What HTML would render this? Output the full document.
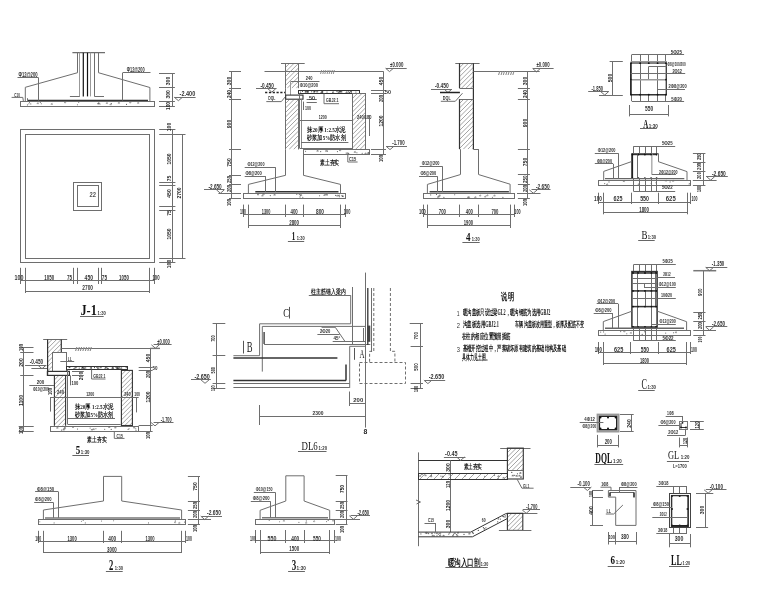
<!DOCTYPE html><html><head><meta charset="utf-8"><style>html,body{margin:0;padding:0;background:#fff;width:760px;height:608px;overflow:hidden}svg{display:block;filter:grayscale(1)}</style></head><body>
<svg width="760" height="608" viewBox="0 0 760 608" font-family="Liberation Sans, sans-serif">
<line x1="72.4" y1="52.7" x2="105.0" y2="52.7" stroke="#6e6e6e" stroke-width="1.2"/>
<line x1="77.5" y1="52.7" x2="77.5" y2="72.7" stroke="#6e6e6e" stroke-width="1.0"/>
<line x1="98.5" y1="52.7" x2="98.5" y2="72.7" stroke="#6e6e6e" stroke-width="1.0"/>
<line x1="79.5" y1="52.7" x2="79.5" y2="96.4" stroke="#999" stroke-width="1.0"/>
<line x1="90.5" y1="52.7" x2="90.5" y2="96.4" stroke="#999" stroke-width="1.0"/>
<line x1="83.3" y1="52.7" x2="83.3" y2="96.4" stroke="#111" stroke-width="1.2"/>
<line x1="87.5" y1="52.7" x2="87.5" y2="96.4" stroke="#111" stroke-width="1.2"/>
<line x1="94.5" y1="52.7" x2="94.5" y2="96.4" stroke="#6e6e6e" stroke-width="1.0"/>
<line x1="69.9" y1="96.5" x2="79.8" y2="96.5" stroke="#6e6e6e" stroke-width="1.0"/>
<line x1="94.4" y1="96.5" x2="104.0" y2="96.5" stroke="#6e6e6e" stroke-width="1.0"/>
<polyline points="77.6,72.7 25.3,87.3 25.3,101.1" fill="none" stroke="#6e6e6e" stroke-width="1.0"/>
<polyline points="98.4,72.7 149.9,87.5 149.9,101.1" fill="none" stroke="#6e6e6e" stroke-width="1.0"/>
<line x1="27.4" y1="100.5" x2="148.0" y2="100.5" stroke="#333" stroke-width="1.5"/>
<line x1="27.5" y1="98.2" x2="27.5" y2="100.5" stroke="#6e6e6e" stroke-width="1.0"/>
<rect x="20.5" y="101.5" width="134.0" height="5.0" fill="none" stroke="#6e6e6e" stroke-width="1.0"/>
<path d="M64.1 102.6l1.4 -0.9l0.3 1.2z" fill="none" stroke="#666" stroke-width="0.5"/>
<circle cx="30.8" cy="103.9" r="0.55" fill="#666"/>
<circle cx="28.9" cy="103.8" r="0.55" fill="#666"/>
<circle cx="78.7" cy="102.3" r="0.55" fill="#666"/>
<circle cx="77.4" cy="104.8" r="0.55" fill="#666"/>
<path d="M50.8 104.2l1.4 -0.9l0.3 1.2z" fill="none" stroke="#666" stroke-width="0.5"/>
<path d="M97.7 103.4l1.4 -0.9l0.3 1.2z" fill="none" stroke="#666" stroke-width="0.5"/>
<circle cx="27.4" cy="104.9" r="0.55" fill="#666"/>
<circle cx="40.3" cy="102.5" r="0.55" fill="#666"/>
<path d="M129.3 102.7l1.4 -0.9l0.3 1.2z" fill="none" stroke="#666" stroke-width="0.5"/>
<path d="M105.9 103.3l1.4 -0.9l0.3 1.2z" fill="none" stroke="#666" stroke-width="0.5"/>
<circle cx="29.5" cy="102.3" r="0.55" fill="#666"/>
<circle cx="111.4" cy="103.5" r="0.55" fill="#666"/>
<circle cx="98.8" cy="103.6" r="0.55" fill="#666"/>
<circle cx="126.5" cy="104.4" r="0.55" fill="#666"/>
<path d="M97.3 103.8l1.4 -0.9l0.3 1.2z" fill="none" stroke="#666" stroke-width="0.5"/>
<path d="M117.9 103.1l1.4 -0.9l0.3 1.2z" fill="none" stroke="#666" stroke-width="0.5"/>
<path d="M36.8 103.5l1.4 -0.9l0.3 1.2z" fill="none" stroke="#666" stroke-width="0.5"/>
<circle cx="41.3" cy="103.7" r="0.55" fill="#666"/>
<path d="M109.7 104.6l1.4 -0.9l0.3 1.2z" fill="none" stroke="#666" stroke-width="0.5"/>
<path d="M137.2 103.1l1.4 -0.9l0.3 1.2z" fill="none" stroke="#666" stroke-width="0.5"/>
<circle cx="100.0" cy="104.0" r="0.55" fill="#666"/>
<text x="18.5" y="76.5" font-size="6.5" textLength="19.0" lengthAdjust="spacingAndGlyphs" fill="#333" font-family="Liberation Sans" font-weight="bold">Φ12@200</text>
<line x1="17.5" y1="77.5" x2="38.4" y2="77.5" stroke="#6e6e6e" stroke-width="1.0"/>
<line x1="38.5" y1="77.6" x2="38.5" y2="100.5" stroke="#6e6e6e" stroke-width="1.0"/>
<text x="126.8" y="71.5" font-size="6.5" textLength="17.8" lengthAdjust="spacingAndGlyphs" fill="#333" font-family="Liberation Sans" font-weight="bold">Φ12@200</text>
<line x1="122.9" y1="72.5" x2="150.5" y2="72.5" stroke="#6e6e6e" stroke-width="1.0"/>
<line x1="122.5" y1="72.6" x2="122.5" y2="100.5" stroke="#6e6e6e" stroke-width="1.0"/>
<text x="14.3" y="97.0" font-size="6" textLength="5.6" lengthAdjust="spacingAndGlyphs" fill="#333" font-family="Liberation Sans" font-weight="bold">C10</text>
<polyline points="11.6,97.4 22.8,97.4 23.4,101.3" fill="none" stroke="#6e6e6e" stroke-width="1.0"/>
<line x1="172.5" y1="73.0" x2="172.5" y2="106.2" stroke="#6e6e6e" stroke-width="1.0"/>
<line x1="159.0" y1="73.5" x2="174.9" y2="73.5" stroke="#6e6e6e" stroke-width="1.0"/>
<line x1="159.0" y1="87.5" x2="174.9" y2="87.5" stroke="#6e6e6e" stroke-width="1.0"/>
<line x1="159.0" y1="101.5" x2="174.9" y2="101.5" stroke="#6e6e6e" stroke-width="1.0"/>
<line x1="159.0" y1="106.5" x2="174.9" y2="106.5" stroke="#6e6e6e" stroke-width="1.0"/>
<text transform="translate(170.2,85.2) rotate(-90)" x="0" y="0" font-size="5.4" textLength="8.4" lengthAdjust="spacingAndGlyphs" fill="#222" font-family="Liberation Sans" font-weight="bold">300</text>
<text transform="translate(170.2,98.5) rotate(-90)" x="0" y="0" font-size="5.4" textLength="8.4" lengthAdjust="spacingAndGlyphs" fill="#222" font-family="Liberation Sans" font-weight="bold">300</text>
<text transform="translate(170.2,110.0) rotate(-90)" x="0" y="0" font-size="5.4" textLength="8.0" lengthAdjust="spacingAndGlyphs" fill="#222" font-family="Liberation Sans" font-weight="bold">100</text>
<line x1="174.3" y1="97.5" x2="195.6" y2="97.5" stroke="#6e6e6e" stroke-width="1.0"/>
<polyline points="174.4,97.3 178.4,100.7 182.4,97.3" fill="none" stroke="#6e6e6e" stroke-width="1.0"/>
<text x="179.6" y="96.3" font-size="7" textLength="15.6" lengthAdjust="spacingAndGlyphs" fill="#333" font-family="Liberation Sans" font-weight="bold">-2.400</text>
<rect x="20.5" y="129.5" width="134.0" height="133.0" fill="none" stroke="#6e6e6e" stroke-width="1.0"/>
<rect x="25.5" y="134.5" width="124.0" height="124.0" fill="none" stroke="#6e6e6e" stroke-width="1.0"/>
<rect x="73.5" y="182.5" width="28.0" height="28.0" fill="none" stroke="#6e6e6e" stroke-width="1.0"/>
<rect x="77.5" y="185.5" width="21.0" height="21.0" fill="none" stroke="#6e6e6e" stroke-width="1.0"/>
<text x="89.5" y="197.0" font-size="6.5" textLength="6.5" lengthAdjust="spacingAndGlyphs" fill="#555" font-family="Liberation Sans" font-weight="bold">22</text>
<line x1="172.5" y1="129.2" x2="172.5" y2="262.4" stroke="#6e6e6e" stroke-width="1.0"/>
<line x1="182.5" y1="134.1" x2="182.5" y2="258.2" stroke="#6e6e6e" stroke-width="1.0"/>
<line x1="159.2" y1="129.5" x2="175.4" y2="129.5" stroke="#6e6e6e" stroke-width="1.0"/>
<line x1="159.2" y1="262.5" x2="175.4" y2="262.5" stroke="#6e6e6e" stroke-width="1.0"/>
<line x1="159.2" y1="134.5" x2="185.5" y2="134.5" stroke="#6e6e6e" stroke-width="1.0"/>
<line x1="159.2" y1="258.5" x2="185.5" y2="258.5" stroke="#6e6e6e" stroke-width="1.0"/>
<line x1="159.2" y1="182.5" x2="175.4" y2="182.5" stroke="#6e6e6e" stroke-width="1.0"/>
<line x1="159.2" y1="185.5" x2="175.4" y2="185.5" stroke="#6e6e6e" stroke-width="1.0"/>
<line x1="159.2" y1="206.5" x2="175.4" y2="206.5" stroke="#6e6e6e" stroke-width="1.0"/>
<line x1="159.2" y1="210.5" x2="175.4" y2="210.5" stroke="#6e6e6e" stroke-width="1.0"/>
<text transform="translate(170.9,131.2) rotate(-90)" x="0" y="0" font-size="5.4" textLength="8.4" lengthAdjust="spacingAndGlyphs" fill="#222" font-family="Liberation Sans" font-weight="bold">100</text>
<text transform="translate(170.9,164.6) rotate(-90)" x="0" y="0" font-size="5.4" textLength="11.2" lengthAdjust="spacingAndGlyphs" fill="#222" font-family="Liberation Sans" font-weight="bold">1050</text>
<text transform="translate(170.9,181.3) rotate(-90)" x="0" y="0" font-size="5.4" textLength="5.6" lengthAdjust="spacingAndGlyphs" fill="#222" font-family="Liberation Sans" font-weight="bold">75</text>
<text transform="translate(170.9,197.7) rotate(-90)" x="0" y="0" font-size="5.4" textLength="8.4" lengthAdjust="spacingAndGlyphs" fill="#222" font-family="Liberation Sans" font-weight="bold">450</text>
<text transform="translate(170.9,215.8) rotate(-90)" x="0" y="0" font-size="5.4" textLength="5.6" lengthAdjust="spacingAndGlyphs" fill="#222" font-family="Liberation Sans" font-weight="bold">75</text>
<text transform="translate(170.9,239.6) rotate(-90)" x="0" y="0" font-size="5.4" textLength="11.2" lengthAdjust="spacingAndGlyphs" fill="#222" font-family="Liberation Sans" font-weight="bold">1050</text>
<text transform="translate(170.9,268.2) rotate(-90)" x="0" y="0" font-size="5.4" textLength="8.4" lengthAdjust="spacingAndGlyphs" fill="#222" font-family="Liberation Sans" font-weight="bold">100</text>
<text transform="translate(181.4,198.6) rotate(-90)" x="0" y="0" font-size="5.4" textLength="11.2" lengthAdjust="spacingAndGlyphs" fill="#222" font-family="Liberation Sans" font-weight="bold">2700</text>
<line x1="20.4" y1="280.5" x2="154.2" y2="280.5" stroke="#6e6e6e" stroke-width="1.0"/>
<line x1="25.3" y1="291.5" x2="149.7" y2="291.5" stroke="#6e6e6e" stroke-width="1.0"/>
<line x1="20.5" y1="267.8" x2="20.5" y2="284.0" stroke="#6e6e6e" stroke-width="1.0"/>
<line x1="154.5" y1="267.8" x2="154.5" y2="284.0" stroke="#6e6e6e" stroke-width="1.0"/>
<line x1="25.5" y1="267.8" x2="25.5" y2="293.0" stroke="#6e6e6e" stroke-width="1.0"/>
<line x1="149.5" y1="267.8" x2="149.5" y2="293.0" stroke="#6e6e6e" stroke-width="1.0"/>
<line x1="73.5" y1="267.8" x2="73.5" y2="284.0" stroke="#6e6e6e" stroke-width="1.0"/>
<line x1="77.5" y1="267.8" x2="77.5" y2="284.0" stroke="#6e6e6e" stroke-width="1.0"/>
<line x1="98.5" y1="267.8" x2="98.5" y2="284.0" stroke="#6e6e6e" stroke-width="1.0"/>
<line x1="101.5" y1="267.8" x2="101.5" y2="284.0" stroke="#6e6e6e" stroke-width="1.0"/>
<text x="14.5" y="279.6" font-size="6.5" textLength="9.0" lengthAdjust="spacingAndGlyphs" fill="#333" font-family="Liberation Sans" font-weight="bold">100</text>
<text x="44.3" y="279.6" font-size="6.5" textLength="9.9" lengthAdjust="spacingAndGlyphs" fill="#333" font-family="Liberation Sans" font-weight="bold">1050</text>
<text x="67.0" y="279.6" font-size="6.5" textLength="5.0" lengthAdjust="spacingAndGlyphs" fill="#333" font-family="Liberation Sans" font-weight="bold">75</text>
<text x="84.6" y="279.6" font-size="6.5" textLength="8.4" lengthAdjust="spacingAndGlyphs" fill="#333" font-family="Liberation Sans" font-weight="bold">450</text>
<text x="101.8" y="279.6" font-size="6.5" textLength="5.2" lengthAdjust="spacingAndGlyphs" fill="#333" font-family="Liberation Sans" font-weight="bold">75</text>
<text x="119.0" y="279.6" font-size="6.5" textLength="9.9" lengthAdjust="spacingAndGlyphs" fill="#333" font-family="Liberation Sans" font-weight="bold">1050</text>
<text x="152.4" y="279.6" font-size="6.5" textLength="7.2" lengthAdjust="spacingAndGlyphs" fill="#333" font-family="Liberation Sans" font-weight="bold">100</text>
<text x="82.3" y="290.4" font-size="6.5" textLength="10.7" lengthAdjust="spacingAndGlyphs" fill="#333" font-family="Liberation Sans" font-weight="bold">2700</text>
<text x="80.5" y="314.7" font-size="13.58778625954195" textLength="16.3" lengthAdjust="spacingAndGlyphs" fill="#111" font-family="Liberation Serif" font-weight="bold">J-1</text>
<text x="97.6" y="314.7" font-size="6.2" textLength="8.2" lengthAdjust="spacingAndGlyphs" fill="#333" font-family="Liberation Sans" font-weight="bold">1:30</text>
<line x1="80.0" y1="316.5" x2="103.7" y2="316.5" stroke="#666" stroke-width="1.0"/>
<line x1="231.5" y1="71.4" x2="231.5" y2="198.4" stroke="#6e6e6e" stroke-width="1.0"/>
<line x1="229.0" y1="71.5" x2="241.0" y2="71.5" stroke="#6e6e6e" stroke-width="1.0"/>
<line x1="229.0" y1="88.5" x2="241.0" y2="88.5" stroke="#6e6e6e" stroke-width="1.0"/>
<line x1="229.0" y1="99.5" x2="241.0" y2="99.5" stroke="#6e6e6e" stroke-width="1.0"/>
<line x1="229.0" y1="149.5" x2="241.0" y2="149.5" stroke="#6e6e6e" stroke-width="1.0"/>
<line x1="229.0" y1="175.5" x2="241.0" y2="175.5" stroke="#6e6e6e" stroke-width="1.0"/>
<line x1="229.0" y1="184.5" x2="241.0" y2="184.5" stroke="#6e6e6e" stroke-width="1.0"/>
<line x1="229.0" y1="193.5" x2="241.0" y2="193.5" stroke="#6e6e6e" stroke-width="1.0"/>
<line x1="229.0" y1="198.5" x2="241.0" y2="198.5" stroke="#6e6e6e" stroke-width="1.0"/>
<text transform="translate(230.9,85.2) rotate(-90)" x="0" y="0" font-size="5.4" textLength="8.4" lengthAdjust="spacingAndGlyphs" fill="#222" font-family="Liberation Sans" font-weight="bold">300</text>
<text transform="translate(230.9,98.0) rotate(-90)" x="0" y="0" font-size="5.4" textLength="8.0" lengthAdjust="spacingAndGlyphs" fill="#222" font-family="Liberation Sans" font-weight="bold">240</text>
<text transform="translate(230.9,128.2) rotate(-90)" x="0" y="0" font-size="5.4" textLength="8.4" lengthAdjust="spacingAndGlyphs" fill="#222" font-family="Liberation Sans" font-weight="bold">900</text>
<text transform="translate(230.9,166.7) rotate(-90)" x="0" y="0" font-size="5.4" textLength="8.4" lengthAdjust="spacingAndGlyphs" fill="#222" font-family="Liberation Sans" font-weight="bold">750</text>
<text transform="translate(230.9,183.0) rotate(-90)" x="0" y="0" font-size="5.4" textLength="7.0" lengthAdjust="spacingAndGlyphs" fill="#222" font-family="Liberation Sans" font-weight="bold">250</text>
<text transform="translate(230.9,192.0) rotate(-90)" x="0" y="0" font-size="5.4" textLength="7.0" lengthAdjust="spacingAndGlyphs" fill="#222" font-family="Liberation Sans" font-weight="bold">200</text>
<text transform="translate(230.9,206.0) rotate(-90)" x="0" y="0" font-size="5.4" textLength="7.0" lengthAdjust="spacingAndGlyphs" fill="#222" font-family="Liberation Sans" font-weight="bold">100</text>
<line x1="204.0" y1="189.5" x2="224.3" y2="189.5" stroke="#6e6e6e" stroke-width="1.0"/>
<polyline points="216.4,189.8 220.4,193.2 224.4,189.8" fill="none" stroke="#6e6e6e" stroke-width="1.0"/>
<text x="208.5" y="188.8" font-size="7" textLength="13.2" lengthAdjust="spacingAndGlyphs" fill="#333" font-family="Liberation Sans" font-weight="bold">-2.650</text>
<line x1="218.4" y1="193.5" x2="240.8" y2="193.5" stroke="#6e6e6e" stroke-width="1.0"/>
<line x1="281.0" y1="63.5" x2="304.7" y2="63.5" stroke="#6e6e6e" stroke-width="1.0"/>
<clipPath id="c121"><rect x="285.0" y="63.4" width="13.6" height="24.8"/></clipPath><g clip-path="url(#c121)">
<line x1="260.2" y1="88.2" x2="285.0" y2="63.4" stroke="#666" stroke-width="0.6"/>
<line x1="264.7" y1="88.2" x2="289.5" y2="63.4" stroke="#666" stroke-width="0.6"/>
<line x1="269.2" y1="88.2" x2="294.0" y2="63.4" stroke="#666" stroke-width="0.6"/>
<line x1="273.7" y1="88.2" x2="298.5" y2="63.4" stroke="#666" stroke-width="0.6"/>
<line x1="278.2" y1="88.2" x2="303.0" y2="63.4" stroke="#666" stroke-width="0.6"/>
<line x1="282.7" y1="88.2" x2="307.5" y2="63.4" stroke="#666" stroke-width="0.6"/>
<line x1="287.2" y1="88.2" x2="312.0" y2="63.4" stroke="#666" stroke-width="0.6"/>
<line x1="291.7" y1="88.2" x2="316.5" y2="63.4" stroke="#666" stroke-width="0.6"/>
<line x1="296.2" y1="88.2" x2="321.0" y2="63.4" stroke="#666" stroke-width="0.6"/>
</g>
<clipPath id="c132"><rect x="285.0" y="99.5" width="13.6" height="49.9"/></clipPath><g clip-path="url(#c132)">
<line x1="235.1" y1="149.4" x2="285.0" y2="99.5" stroke="#666" stroke-width="0.6"/>
<line x1="239.6" y1="149.4" x2="289.5" y2="99.5" stroke="#666" stroke-width="0.6"/>
<line x1="244.1" y1="149.4" x2="294.0" y2="99.5" stroke="#666" stroke-width="0.6"/>
<line x1="248.6" y1="149.4" x2="298.5" y2="99.5" stroke="#666" stroke-width="0.6"/>
<line x1="253.1" y1="149.4" x2="303.0" y2="99.5" stroke="#666" stroke-width="0.6"/>
<line x1="257.6" y1="149.4" x2="307.5" y2="99.5" stroke="#666" stroke-width="0.6"/>
<line x1="262.1" y1="149.4" x2="312.0" y2="99.5" stroke="#666" stroke-width="0.6"/>
<line x1="266.6" y1="149.4" x2="316.5" y2="99.5" stroke="#666" stroke-width="0.6"/>
<line x1="271.1" y1="149.4" x2="321.0" y2="99.5" stroke="#666" stroke-width="0.6"/>
<line x1="275.6" y1="149.4" x2="325.5" y2="99.5" stroke="#666" stroke-width="0.6"/>
<line x1="280.1" y1="149.4" x2="330.0" y2="99.5" stroke="#666" stroke-width="0.6"/>
<line x1="284.6" y1="149.4" x2="334.5" y2="99.5" stroke="#666" stroke-width="0.6"/>
<line x1="289.1" y1="149.4" x2="339.0" y2="99.5" stroke="#666" stroke-width="0.6"/>
<line x1="293.6" y1="149.4" x2="343.5" y2="99.5" stroke="#666" stroke-width="0.6"/>
<line x1="298.1" y1="149.4" x2="348.0" y2="99.5" stroke="#666" stroke-width="0.6"/>
</g>
<line x1="285.5" y1="63.4" x2="285.5" y2="88.2" stroke="#6e6e6e" stroke-width="1.0"/>
<line x1="298.5" y1="63.4" x2="298.5" y2="88.2" stroke="#6e6e6e" stroke-width="1.0"/>
<line x1="285.5" y1="99.5" x2="285.5" y2="149.4" stroke="#6e6e6e" stroke-width="1.0"/>
<line x1="298.5" y1="99.5" x2="298.5" y2="149.4" stroke="#6e6e6e" stroke-width="1.0"/>
<line x1="285.5" y1="88.2" x2="285.5" y2="99.5" stroke="#6e6e6e" stroke-width="1.0"/>
<line x1="290.5" y1="81.4" x2="290.5" y2="95.1" stroke="#999" stroke-width="1.0"/>
<line x1="290.8" y1="81.5" x2="319.5" y2="81.5" stroke="#6e6e6e" stroke-width="1.0"/>
<text x="305.8" y="80.0" font-size="6" textLength="6.7" lengthAdjust="spacingAndGlyphs" fill="#333" font-family="Liberation Sans" font-weight="bold">240</text>
<text x="299.7" y="86.5" font-size="6" textLength="18.3" lengthAdjust="spacingAndGlyphs" fill="#333" font-family="Liberation Sans" font-weight="bold">Φ10@200</text>
<line x1="264.5" y1="71.5" x2="383.7" y2="71.5" stroke="#6e6e6e" stroke-width="1.0"/>
<text x="320.0" y="74.0" font-size="5" textLength="15.0" lengthAdjust="spacingAndGlyphs" fill="#888" font-family="Liberation Sans" font-weight="bold">///////</text>
<line x1="256.0" y1="88.5" x2="276.6" y2="88.5" stroke="#6e6e6e" stroke-width="1.0"/>
<polyline points="267.8,88.7 271.8,92.1 275.8,88.7" fill="none" stroke="#6e6e6e" stroke-width="1.0"/>
<text x="260.5" y="87.7" font-size="7" textLength="13.3" lengthAdjust="spacingAndGlyphs" fill="#333" font-family="Liberation Sans" font-weight="bold">-0.450</text>
<line x1="265.1" y1="92.5" x2="285.0" y2="92.5" stroke="#222" stroke-width="1.3" stroke-dasharray="2.2,1.6"/>
<text x="268.3" y="100.4" font-size="6" textLength="7.1" lengthAdjust="spacingAndGlyphs" fill="#333" font-family="Liberation Sans" font-weight="bold">DQL</text>
<polyline points="266.3,101.6 281.3,101.6 285.3,96.8" fill="none" stroke="#6e6e6e" stroke-width="1.0"/>
<rect x="298.5" y="90.5" width="61.0" height="3.0" fill="none" stroke="#333" stroke-width="1.0"/>
<circle cx="349.3" cy="92.4" r="0.55" fill="#333"/>
<path d="M338.8 91.6l1.4 -0.9l0.3 1.2z" fill="none" stroke="#333" stroke-width="0.5"/>
<path d="M337.8 92.5l1.4 -0.9l0.3 1.2z" fill="none" stroke="#333" stroke-width="0.5"/>
<path d="M316.2 91.9l1.4 -0.9l0.3 1.2z" fill="none" stroke="#333" stroke-width="0.5"/>
<circle cx="300.6" cy="92.0" r="0.55" fill="#333"/>
<path d="M306.3 91.6l1.4 -0.9l0.3 1.2z" fill="none" stroke="#333" stroke-width="0.5"/>
<circle cx="307.0" cy="91.7" r="0.55" fill="#333"/>
<circle cx="351.1" cy="91.6" r="0.55" fill="#333"/>
<path d="M332.0 92.4l1.4 -0.9l0.3 1.2z" fill="none" stroke="#333" stroke-width="0.5"/>
<circle cx="350.7" cy="91.8" r="0.55" fill="#333"/>
<path d="M320.6 92.4l1.4 -0.9l0.3 1.2z" fill="none" stroke="#333" stroke-width="0.5"/>
<circle cx="308.3" cy="91.7" r="0.55" fill="#333"/>
<path d="M313.2 92.0l1.4 -0.9l0.3 1.2z" fill="none" stroke="#333" stroke-width="0.5"/>
<circle cx="314.9" cy="91.5" r="0.55" fill="#333"/>
<path d="M321.3 92.1l1.4 -0.9l0.3 1.2z" fill="none" stroke="#333" stroke-width="0.5"/>
<path d="M340.4 92.0l1.4 -0.9l0.3 1.2z" fill="none" stroke="#333" stroke-width="0.5"/>
<path d="M339.5 91.6l1.4 -0.9l0.3 1.2z" fill="none" stroke="#333" stroke-width="0.5"/>
<path d="M345.7 92.4l1.4 -0.9l0.3 1.2z" fill="none" stroke="#333" stroke-width="0.5"/>
<circle cx="322.6" cy="91.9" r="0.55" fill="#333"/>
<circle cx="337.0" cy="91.6" r="0.55" fill="#333"/>
<circle cx="311.7" cy="91.7" r="0.55" fill="#333"/>
<circle cx="302.4" cy="91.5" r="0.55" fill="#333"/>
<circle cx="305.3" cy="91.9" r="0.55" fill="#333"/>
<circle cx="351.3" cy="92.1" r="0.55" fill="#333"/>
<circle cx="314.3" cy="91.8" r="0.55" fill="#333"/>
<path d="M306.6 92.3l1.4 -0.9l0.3 1.2z" fill="none" stroke="#333" stroke-width="0.5"/>
<circle cx="327.0" cy="92.0" r="0.55" fill="#333"/>
<circle cx="305.4" cy="91.8" r="0.55" fill="#333"/>
<circle cx="348.6" cy="91.7" r="0.55" fill="#333"/>
<circle cx="355.9" cy="92.0" r="0.55" fill="#333"/>
<rect x="285.7" y="95.1" width="17.3" height="4.1" fill="none" stroke="#333" stroke-width="1.1"/>
<line x1="306.6" y1="99.5" x2="316.8" y2="99.5" stroke="#6e6e6e" stroke-width="1.0"/>
<line x1="306.6" y1="102.5" x2="316.8" y2="102.5" stroke="#6e6e6e" stroke-width="1.0"/>
<text x="309.0" y="100.4" font-size="5" textLength="6.0" lengthAdjust="spacingAndGlyphs" fill="#333" font-family="Liberation Sans" font-weight="bold">50</text>
<line x1="299.5" y1="93.4" x2="299.5" y2="148.3" stroke="#6e6e6e" stroke-width="1.0"/>
<line x1="301.5" y1="99.5" x2="301.5" y2="148.3" stroke="#888" stroke-width="1.0"/>
<line x1="299.7" y1="148.5" x2="352.4" y2="148.5" stroke="#6e6e6e" stroke-width="1.0"/>
<line x1="301.0" y1="142.5" x2="348.4" y2="142.5" stroke="#6e6e6e" stroke-width="1.0"/>
<clipPath id="c205"><rect x="352.6" y="93.8" width="12.8" height="55.6"/></clipPath><g clip-path="url(#c205)">
<line x1="297.0" y1="149.4" x2="352.6" y2="93.8" stroke="#666" stroke-width="0.6"/>
<line x1="301.5" y1="149.4" x2="357.1" y2="93.8" stroke="#666" stroke-width="0.6"/>
<line x1="306.0" y1="149.4" x2="361.6" y2="93.8" stroke="#666" stroke-width="0.6"/>
<line x1="310.5" y1="149.4" x2="366.1" y2="93.8" stroke="#666" stroke-width="0.6"/>
<line x1="315.0" y1="149.4" x2="370.6" y2="93.8" stroke="#666" stroke-width="0.6"/>
<line x1="319.5" y1="149.4" x2="375.1" y2="93.8" stroke="#666" stroke-width="0.6"/>
<line x1="324.0" y1="149.4" x2="379.6" y2="93.8" stroke="#666" stroke-width="0.6"/>
<line x1="328.5" y1="149.4" x2="384.1" y2="93.8" stroke="#666" stroke-width="0.6"/>
<line x1="333.0" y1="149.4" x2="388.6" y2="93.8" stroke="#666" stroke-width="0.6"/>
<line x1="337.5" y1="149.4" x2="393.1" y2="93.8" stroke="#666" stroke-width="0.6"/>
<line x1="342.0" y1="149.4" x2="397.6" y2="93.8" stroke="#666" stroke-width="0.6"/>
<line x1="346.5" y1="149.4" x2="402.1" y2="93.8" stroke="#666" stroke-width="0.6"/>
<line x1="351.0" y1="149.4" x2="406.6" y2="93.8" stroke="#666" stroke-width="0.6"/>
<line x1="355.5" y1="149.4" x2="411.1" y2="93.8" stroke="#666" stroke-width="0.6"/>
<line x1="360.0" y1="149.4" x2="415.6" y2="93.8" stroke="#666" stroke-width="0.6"/>
<line x1="364.5" y1="149.4" x2="420.1" y2="93.8" stroke="#666" stroke-width="0.6"/>
</g>
<rect x="352.5" y="93.5" width="13.0" height="56.0" fill="none" stroke="#6e6e6e" stroke-width="1.0"/>
<text x="326.0" y="102.0" font-size="6" textLength="12.5" lengthAdjust="spacingAndGlyphs" fill="#333" font-family="Liberation Sans" font-weight="bold">GBJ2.1</text>
<polyline points="324.0,93.4 324.0,103.7 339.0,103.7" fill="none" stroke="#6e6e6e" stroke-width="1.0"/>
<text x="305.0" y="109.5" font-size="5.5" textLength="6.0" lengthAdjust="spacingAndGlyphs" fill="#333" font-family="Liberation Sans" font-weight="bold">100</text>
<line x1="303.5" y1="101.6" x2="303.5" y2="110.0" stroke="#6e6e6e" stroke-width="1.0"/>
<text x="318.8" y="118.8" font-size="6" textLength="7.9" lengthAdjust="spacingAndGlyphs" fill="#333" font-family="Liberation Sans" font-weight="bold">1200</text>
<line x1="299.7" y1="120.5" x2="353.0" y2="120.5" stroke="#6e6e6e" stroke-width="1.0"/>
<text x="357.0" y="118.8" font-size="6" textLength="14.4" lengthAdjust="spacingAndGlyphs" fill="#333" font-family="Liberation Sans" font-weight="bold">240/180</text>
<line x1="369.5" y1="115.0" x2="369.5" y2="136.0" stroke="#6e6e6e" stroke-width="1.0"/>
<text x="307.0" y="132.3" font-size="6.5" textLength="38.8" lengthAdjust="spacingAndGlyphs" fill="#151515" font-family="Liberation Serif" font-weight="bold">抹20厚 1:2.5水泥</text>
<text x="307.0" y="140.2" font-size="6.5" textLength="38.8" lengthAdjust="spacingAndGlyphs" fill="#151515" font-family="Liberation Serif" font-weight="bold">砂浆加5%防水剂</text>
<rect x="303.5" y="149.5" width="66.0" height="5.0" fill="none" stroke="#6e6e6e" stroke-width="1.0"/>
<path d="M339.1 150.5l1.4 -0.9l0.3 1.2z" fill="none" stroke="#555" stroke-width="0.5"/>
<path d="M367.3 153.2l1.4 -0.9l0.3 1.2z" fill="none" stroke="#555" stroke-width="0.5"/>
<circle cx="320.7" cy="151.6" r="0.55" fill="#555"/>
<path d="M353.9 152.2l1.4 -0.9l0.3 1.2z" fill="none" stroke="#555" stroke-width="0.5"/>
<path d="M325.2 151.1l1.4 -0.9l0.3 1.2z" fill="none" stroke="#555" stroke-width="0.5"/>
<path d="M367.7 153.2l1.4 -0.9l0.3 1.2z" fill="none" stroke="#555" stroke-width="0.5"/>
<circle cx="356.9" cy="152.8" r="0.55" fill="#555"/>
<circle cx="337.4" cy="151.6" r="0.55" fill="#555"/>
<circle cx="305.6" cy="151.3" r="0.55" fill="#555"/>
<circle cx="348.7" cy="153.6" r="0.55" fill="#555"/>
<path d="M364.6 153.7l1.4 -0.9l0.3 1.2z" fill="none" stroke="#555" stroke-width="0.5"/>
<circle cx="327.5" cy="151.1" r="0.55" fill="#555"/>
<path d="M316.6 151.1l1.4 -0.9l0.3 1.2z" fill="none" stroke="#555" stroke-width="0.5"/>
<circle cx="362.2" cy="153.2" r="0.55" fill="#555"/>
<circle cx="346.2" cy="153.0" r="0.55" fill="#555"/>
<path d="M346.7 153.4l1.4 -0.9l0.3 1.2z" fill="none" stroke="#555" stroke-width="0.5"/>
<line x1="374.0" y1="149.5" x2="380.0" y2="149.5" stroke="#6e6e6e" stroke-width="1.0"/>
<line x1="374.0" y1="154.5" x2="380.0" y2="154.5" stroke="#6e6e6e" stroke-width="1.0"/>
<text x="349.0" y="161.2" font-size="6" textLength="7.3" lengthAdjust="spacingAndGlyphs" fill="#333" font-family="Liberation Sans" font-weight="bold">C15</text>
<polyline points="347.8,154.5 347.8,162.0 357.6,162.0" fill="none" stroke="#6e6e6e" stroke-width="1.0"/>
<text x="320.0" y="165.0" font-size="6.5" textLength="19.0" lengthAdjust="spacingAndGlyphs" fill="#151515" font-family="Liberation Serif" font-weight="bold">素土夯实</text>
<line x1="285.5" y1="149.4" x2="285.5" y2="175.3" stroke="#6e6e6e" stroke-width="1.0"/>
<line x1="303.5" y1="154.5" x2="303.5" y2="175.3" stroke="#6e6e6e" stroke-width="1.0"/>
<polyline points="285.6,175.3 248.4,184.4 248.4,193.2" fill="none" stroke="#6e6e6e" stroke-width="1.0"/>
<polyline points="303.4,175.3 340.5,184.4 340.5,193.2" fill="none" stroke="#6e6e6e" stroke-width="1.0"/>
<line x1="255.3" y1="191.8" x2="338.5" y2="191.8" stroke="#333" stroke-width="1.5"/>
<rect x="243.5" y="193.5" width="102.0" height="5.0" fill="none" stroke="#6e6e6e" stroke-width="1.0"/>
<circle cx="319.6" cy="195.8" r="0.55" fill="#555"/>
<path d="M323.5 195.3l1.4 -0.9l0.3 1.2z" fill="none" stroke="#555" stroke-width="0.5"/>
<circle cx="341.9" cy="195.5" r="0.55" fill="#555"/>
<circle cx="339.4" cy="196.7" r="0.55" fill="#555"/>
<path d="M257.0 194.7l1.4 -0.9l0.3 1.2z" fill="none" stroke="#555" stroke-width="0.5"/>
<path d="M325.3 194.7l1.4 -0.9l0.3 1.2z" fill="none" stroke="#555" stroke-width="0.5"/>
<circle cx="342.7" cy="196.4" r="0.55" fill="#555"/>
<circle cx="299.3" cy="194.6" r="0.55" fill="#555"/>
<path d="M341.8 196.4l1.4 -0.9l0.3 1.2z" fill="none" stroke="#555" stroke-width="0.5"/>
<path d="M338.0 195.7l1.4 -0.9l0.3 1.2z" fill="none" stroke="#555" stroke-width="0.5"/>
<circle cx="327.2" cy="194.9" r="0.55" fill="#555"/>
<path d="M273.6 195.0l1.4 -0.9l0.3 1.2z" fill="none" stroke="#555" stroke-width="0.5"/>
<circle cx="270.3" cy="195.6" r="0.55" fill="#555"/>
<circle cx="335.7" cy="195.4" r="0.55" fill="#555"/>
<circle cx="302.8" cy="197.3" r="0.55" fill="#555"/>
<path d="M336.4 195.9l1.4 -0.9l0.3 1.2z" fill="none" stroke="#555" stroke-width="0.5"/>
<circle cx="296.8" cy="194.3" r="0.55" fill="#555"/>
<path d="M262.6 194.2l1.4 -0.9l0.3 1.2z" fill="none" stroke="#555" stroke-width="0.5"/>
<path d="M261.5 195.8l1.4 -0.9l0.3 1.2z" fill="none" stroke="#555" stroke-width="0.5"/>
<path d="M300.1 195.3l1.4 -0.9l0.3 1.2z" fill="none" stroke="#555" stroke-width="0.5"/>
<circle cx="300.0" cy="196.9" r="0.55" fill="#555"/>
<circle cx="300.5" cy="195.0" r="0.55" fill="#555"/>
<text x="247.4" y="166.0" font-size="6" textLength="17.1" lengthAdjust="spacingAndGlyphs" fill="#333" font-family="Liberation Sans" font-weight="bold">Φ12@200</text>
<line x1="244.7" y1="167.5" x2="275.7" y2="167.5" stroke="#6e6e6e" stroke-width="1.0"/>
<line x1="275.5" y1="167.4" x2="275.5" y2="191.8" stroke="#6e6e6e" stroke-width="1.0"/>
<text x="245.4" y="175.0" font-size="6" textLength="16.4" lengthAdjust="spacingAndGlyphs" fill="#333" font-family="Liberation Sans" font-weight="bold">Φ8@200</text>
<line x1="244.7" y1="176.5" x2="265.8" y2="176.5" stroke="#6e6e6e" stroke-width="1.0"/>
<line x1="265.5" y1="176.3" x2="265.5" y2="191.8" stroke="#6e6e6e" stroke-width="1.0"/>
<line x1="383.5" y1="71.6" x2="383.5" y2="154.4" stroke="#6e6e6e" stroke-width="1.0"/>
<line x1="371.0" y1="90.5" x2="386.0" y2="90.5" stroke="#6e6e6e" stroke-width="1.0"/>
<line x1="371.0" y1="93.5" x2="386.0" y2="93.5" stroke="#6e6e6e" stroke-width="1.0"/>
<line x1="371.0" y1="149.5" x2="386.0" y2="149.5" stroke="#6e6e6e" stroke-width="1.0"/>
<line x1="371.0" y1="154.5" x2="386.0" y2="154.5" stroke="#6e6e6e" stroke-width="1.0"/>
<text transform="translate(383.4,85.2) rotate(-90)" x="0" y="0" font-size="5.4" textLength="8.4" lengthAdjust="spacingAndGlyphs" fill="#222" font-family="Liberation Sans" font-weight="bold">450</text>
<text x="385.0" y="93.5" font-size="5.5" textLength="6.0" lengthAdjust="spacingAndGlyphs" fill="#333" font-family="Liberation Sans" font-weight="bold">50</text>
<text transform="translate(383.4,102.0) rotate(-90)" x="0" y="0" font-size="5.4" textLength="7.0" lengthAdjust="spacingAndGlyphs" fill="#222" font-family="Liberation Sans" font-weight="bold">200</text>
<text transform="translate(383.4,126.6) rotate(-90)" x="0" y="0" font-size="5.4" textLength="11.2" lengthAdjust="spacingAndGlyphs" fill="#222" font-family="Liberation Sans" font-weight="bold">1200</text>
<text transform="translate(383.4,162.0) rotate(-90)" x="0" y="0" font-size="5.4" textLength="7.0" lengthAdjust="spacingAndGlyphs" fill="#222" font-family="Liberation Sans" font-weight="bold">100</text>
<line x1="386.0" y1="68.5" x2="406.7" y2="68.5" stroke="#6e6e6e" stroke-width="1.0"/>
<polyline points="385.5,68.2 389.5,71.6 393.5,68.2" fill="none" stroke="#6e6e6e" stroke-width="1.0"/>
<text x="390.0" y="67.2" font-size="7" textLength="13.3" lengthAdjust="spacingAndGlyphs" fill="#333" font-family="Liberation Sans" font-weight="bold">±0.000</text>
<line x1="386.2" y1="146.5" x2="407.0" y2="146.5" stroke="#6e6e6e" stroke-width="1.0"/>
<polyline points="386.0,146.2 390.0,149.6 394.0,146.2" fill="none" stroke="#6e6e6e" stroke-width="1.0"/>
<text x="392.2" y="145.2" font-size="7" textLength="12.5" lengthAdjust="spacingAndGlyphs" fill="#333" font-family="Liberation Sans" font-weight="bold">-1.700</text>
<line x1="243.4" y1="214.5" x2="345.5" y2="214.5" stroke="#6e6e6e" stroke-width="1.0"/>
<line x1="248.4" y1="225.5" x2="340.5" y2="225.5" stroke="#6e6e6e" stroke-width="1.0"/>
<line x1="243.5" y1="204.6" x2="243.5" y2="217.0" stroke="#6e6e6e" stroke-width="1.0"/>
<line x1="345.5" y1="204.6" x2="345.5" y2="217.0" stroke="#6e6e6e" stroke-width="1.0"/>
<line x1="285.5" y1="204.6" x2="285.5" y2="217.0" stroke="#6e6e6e" stroke-width="1.0"/>
<line x1="303.5" y1="204.6" x2="303.5" y2="217.0" stroke="#6e6e6e" stroke-width="1.0"/>
<line x1="248.5" y1="204.6" x2="248.5" y2="228.0" stroke="#6e6e6e" stroke-width="1.0"/>
<line x1="340.5" y1="204.6" x2="340.5" y2="228.0" stroke="#6e6e6e" stroke-width="1.0"/>
<text x="240.0" y="214.3" font-size="6.5" textLength="6.0" lengthAdjust="spacingAndGlyphs" fill="#333" font-family="Liberation Sans" font-weight="bold">100</text>
<text x="261.8" y="214.3" font-size="6.5" textLength="8.6" lengthAdjust="spacingAndGlyphs" fill="#333" font-family="Liberation Sans" font-weight="bold">1300</text>
<text x="290.5" y="214.3" font-size="6.5" textLength="7.3" lengthAdjust="spacingAndGlyphs" fill="#333" font-family="Liberation Sans" font-weight="bold">400</text>
<text x="316.0" y="214.3" font-size="6.5" textLength="8.0" lengthAdjust="spacingAndGlyphs" fill="#333" font-family="Liberation Sans" font-weight="bold">800</text>
<text x="343.8" y="214.3" font-size="6.5" textLength="6.6" lengthAdjust="spacingAndGlyphs" fill="#333" font-family="Liberation Sans" font-weight="bold">100</text>
<text x="289.2" y="224.5" font-size="6.5" textLength="9.8" lengthAdjust="spacingAndGlyphs" fill="#333" font-family="Liberation Sans" font-weight="bold">2800</text>
<text x="291.8" y="239.5" font-size="12.519083969465632" textLength="3.5" lengthAdjust="spacingAndGlyphs" fill="#111" font-family="Liberation Serif" font-weight="bold">1</text>
<text x="296.8" y="239.5" font-size="6.2" textLength="7.9" lengthAdjust="spacingAndGlyphs" fill="#333" font-family="Liberation Sans" font-weight="bold">1:30</text>
<line x1="287.9" y1="241.5" x2="304.2" y2="241.5" stroke="#666" stroke-width="1.0"/>
<line x1="455.3" y1="63.5" x2="479.6" y2="63.5" stroke="#6e6e6e" stroke-width="1.0"/>
<clipPath id="c324"><rect x="459.5" y="63.2" width="13.9" height="25.0"/></clipPath><g clip-path="url(#c324)">
<line x1="434.5" y1="88.2" x2="459.5" y2="63.2" stroke="#666" stroke-width="0.6"/>
<line x1="439.0" y1="88.2" x2="464.0" y2="63.2" stroke="#666" stroke-width="0.6"/>
<line x1="443.5" y1="88.2" x2="468.5" y2="63.2" stroke="#666" stroke-width="0.6"/>
<line x1="448.0" y1="88.2" x2="473.0" y2="63.2" stroke="#666" stroke-width="0.6"/>
<line x1="452.5" y1="88.2" x2="477.5" y2="63.2" stroke="#666" stroke-width="0.6"/>
<line x1="457.0" y1="88.2" x2="482.0" y2="63.2" stroke="#666" stroke-width="0.6"/>
<line x1="461.5" y1="88.2" x2="486.5" y2="63.2" stroke="#666" stroke-width="0.6"/>
<line x1="466.0" y1="88.2" x2="491.0" y2="63.2" stroke="#666" stroke-width="0.6"/>
<line x1="470.5" y1="88.2" x2="495.5" y2="63.2" stroke="#666" stroke-width="0.6"/>
</g>
<clipPath id="c335"><rect x="459.5" y="99.0" width="13.9" height="50.2"/></clipPath><g clip-path="url(#c335)">
<line x1="409.3" y1="149.2" x2="459.5" y2="99.0" stroke="#666" stroke-width="0.6"/>
<line x1="413.8" y1="149.2" x2="464.0" y2="99.0" stroke="#666" stroke-width="0.6"/>
<line x1="418.3" y1="149.2" x2="468.5" y2="99.0" stroke="#666" stroke-width="0.6"/>
<line x1="422.8" y1="149.2" x2="473.0" y2="99.0" stroke="#666" stroke-width="0.6"/>
<line x1="427.3" y1="149.2" x2="477.5" y2="99.0" stroke="#666" stroke-width="0.6"/>
<line x1="431.8" y1="149.2" x2="482.0" y2="99.0" stroke="#666" stroke-width="0.6"/>
<line x1="436.3" y1="149.2" x2="486.5" y2="99.0" stroke="#666" stroke-width="0.6"/>
<line x1="440.8" y1="149.2" x2="491.0" y2="99.0" stroke="#666" stroke-width="0.6"/>
<line x1="445.3" y1="149.2" x2="495.5" y2="99.0" stroke="#666" stroke-width="0.6"/>
<line x1="449.8" y1="149.2" x2="500.0" y2="99.0" stroke="#666" stroke-width="0.6"/>
<line x1="454.3" y1="149.2" x2="504.5" y2="99.0" stroke="#666" stroke-width="0.6"/>
<line x1="458.8" y1="149.2" x2="509.0" y2="99.0" stroke="#666" stroke-width="0.6"/>
<line x1="463.3" y1="149.2" x2="513.5" y2="99.0" stroke="#666" stroke-width="0.6"/>
<line x1="467.8" y1="149.2" x2="518.0" y2="99.0" stroke="#666" stroke-width="0.6"/>
<line x1="472.3" y1="149.2" x2="522.5" y2="99.0" stroke="#666" stroke-width="0.6"/>
</g>
<line x1="459.5" y1="63.2" x2="459.5" y2="88.2" stroke="#333" stroke-width="1.2"/>
<line x1="473.4" y1="63.2" x2="473.4" y2="149.2" stroke="#333" stroke-width="1.2"/>
<line x1="459.5" y1="99.0" x2="459.5" y2="149.2" stroke="#333" stroke-width="1.2"/>
<line x1="459.5" y1="88.5" x2="473.4" y2="88.5" stroke="#6e6e6e" stroke-width="1.0"/>
<line x1="459.5" y1="99.5" x2="473.4" y2="99.5" stroke="#6e6e6e" stroke-width="1.0"/>
<line x1="473.4" y1="71.5" x2="539.7" y2="71.5" stroke="#6e6e6e" stroke-width="1.0"/>
<text x="498.0" y="74.5" font-size="5" textLength="16.7" lengthAdjust="spacingAndGlyphs" fill="#888" font-family="Liberation Sans" font-weight="bold">///////</text>
<line x1="431.0" y1="89.5" x2="452.0" y2="89.5" stroke="#6e6e6e" stroke-width="1.0"/>
<polyline points="444.0,89.1 448.0,92.5 452.0,89.1" fill="none" stroke="#6e6e6e" stroke-width="1.0"/>
<text x="434.9" y="88.1" font-size="7" textLength="13.8" lengthAdjust="spacingAndGlyphs" fill="#333" font-family="Liberation Sans" font-weight="bold">-0.450</text>
<line x1="440.0" y1="92.5" x2="459.9" y2="92.5" stroke="#222" stroke-width="1.5"/>
<text x="442.8" y="100.3" font-size="6" textLength="7.9" lengthAdjust="spacingAndGlyphs" fill="#333" font-family="Liberation Sans" font-weight="bold">DQL</text>
<polyline points="440.8,101.3 455.3,101.3 462.5,93.2" fill="none" stroke="#6e6e6e" stroke-width="1.0"/>
<line x1="460.5" y1="149.2" x2="460.5" y2="174.6" stroke="#6e6e6e" stroke-width="1.0"/>
<line x1="478.5" y1="149.2" x2="478.5" y2="174.6" stroke="#6e6e6e" stroke-width="1.0"/>
<line x1="473.4" y1="149.5" x2="478.7" y2="149.5" stroke="#6e6e6e" stroke-width="1.0"/>
<polyline points="460.3,174.6 427.4,184.4 427.4,193.2" fill="none" stroke="#6e6e6e" stroke-width="1.0"/>
<polyline points="478.7,174.6 510.1,184.2 510.1,193.2" fill="none" stroke="#6e6e6e" stroke-width="1.0"/>
<line x1="429.6" y1="191.8" x2="508.9" y2="191.8" stroke="#444" stroke-width="1.5"/>
<rect x="423.5" y="193.5" width="91.0" height="5.0" fill="none" stroke="#6e6e6e" stroke-width="1.0"/>
<path d="M493.5 195.8l1.4 -0.9l0.3 1.2z" fill="none" stroke="#666" stroke-width="0.5"/>
<circle cx="492.4" cy="197.3" r="0.55" fill="#666"/>
<path d="M479.2 195.8l1.4 -0.9l0.3 1.2z" fill="none" stroke="#666" stroke-width="0.5"/>
<path d="M486.4 195.6l1.4 -0.9l0.3 1.2z" fill="none" stroke="#666" stroke-width="0.5"/>
<path d="M467.1 197.4l1.4 -0.9l0.3 1.2z" fill="none" stroke="#666" stroke-width="0.5"/>
<circle cx="502.9" cy="197.4" r="0.55" fill="#666"/>
<path d="M474.4 197.4l1.4 -0.9l0.3 1.2z" fill="none" stroke="#666" stroke-width="0.5"/>
<circle cx="436.5" cy="194.4" r="0.55" fill="#666"/>
<circle cx="430.7" cy="194.9" r="0.55" fill="#666"/>
<path d="M484.3 196.8l1.4 -0.9l0.3 1.2z" fill="none" stroke="#666" stroke-width="0.5"/>
<path d="M438.1 196.6l1.4 -0.9l0.3 1.2z" fill="none" stroke="#666" stroke-width="0.5"/>
<path d="M437.0 197.2l1.4 -0.9l0.3 1.2z" fill="none" stroke="#666" stroke-width="0.5"/>
<circle cx="443.9" cy="197.4" r="0.55" fill="#666"/>
<path d="M468.0 197.6l1.4 -0.9l0.3 1.2z" fill="none" stroke="#666" stroke-width="0.5"/>
<path d="M438.7 195.6l1.4 -0.9l0.3 1.2z" fill="none" stroke="#666" stroke-width="0.5"/>
<circle cx="454.7" cy="194.7" r="0.55" fill="#666"/>
<text x="421.7" y="165.0" font-size="6" textLength="17.8" lengthAdjust="spacingAndGlyphs" fill="#333" font-family="Liberation Sans" font-weight="bold">Φ12@200</text>
<line x1="419.7" y1="166.5" x2="442.4" y2="166.5" stroke="#6e6e6e" stroke-width="1.0"/>
<line x1="442.5" y1="166.3" x2="442.5" y2="191.8" stroke="#6e6e6e" stroke-width="1.0"/>
<text x="420.4" y="174.5" font-size="6" textLength="15.8" lengthAdjust="spacingAndGlyphs" fill="#333" font-family="Liberation Sans" font-weight="bold">Φ8@200</text>
<line x1="419.0" y1="176.5" x2="437.5" y2="176.5" stroke="#6e6e6e" stroke-width="1.0"/>
<line x1="437.5" y1="176.3" x2="437.5" y2="191.8" stroke="#6e6e6e" stroke-width="1.0"/>
<line x1="527.5" y1="71.8" x2="527.5" y2="198.7" stroke="#6e6e6e" stroke-width="1.0"/>
<line x1="517.9" y1="88.5" x2="529.9" y2="88.5" stroke="#6e6e6e" stroke-width="1.0"/>
<line x1="517.9" y1="99.5" x2="529.9" y2="99.5" stroke="#6e6e6e" stroke-width="1.0"/>
<line x1="517.9" y1="149.5" x2="529.9" y2="149.5" stroke="#6e6e6e" stroke-width="1.0"/>
<line x1="517.9" y1="174.5" x2="529.9" y2="174.5" stroke="#6e6e6e" stroke-width="1.0"/>
<line x1="517.9" y1="184.5" x2="529.9" y2="184.5" stroke="#6e6e6e" stroke-width="1.0"/>
<line x1="517.9" y1="193.5" x2="529.9" y2="193.5" stroke="#6e6e6e" stroke-width="1.0"/>
<line x1="517.9" y1="198.5" x2="529.9" y2="198.5" stroke="#6e6e6e" stroke-width="1.0"/>
<text transform="translate(527.4,85.2) rotate(-90)" x="0" y="0" font-size="5.4" textLength="8.4" lengthAdjust="spacingAndGlyphs" fill="#222" font-family="Liberation Sans" font-weight="bold">300</text>
<text transform="translate(527.4,98.0) rotate(-90)" x="0" y="0" font-size="5.4" textLength="8.0" lengthAdjust="spacingAndGlyphs" fill="#222" font-family="Liberation Sans" font-weight="bold">240</text>
<text transform="translate(527.4,127.2) rotate(-90)" x="0" y="0" font-size="5.4" textLength="8.4" lengthAdjust="spacingAndGlyphs" fill="#222" font-family="Liberation Sans" font-weight="bold">900</text>
<text transform="translate(527.4,166.2) rotate(-90)" x="0" y="0" font-size="5.4" textLength="8.4" lengthAdjust="spacingAndGlyphs" fill="#222" font-family="Liberation Sans" font-weight="bold">750</text>
<text transform="translate(527.4,183.0) rotate(-90)" x="0" y="0" font-size="5.4" textLength="7.5" lengthAdjust="spacingAndGlyphs" fill="#222" font-family="Liberation Sans" font-weight="bold">250</text>
<text transform="translate(527.4,192.0) rotate(-90)" x="0" y="0" font-size="5.4" textLength="7.0" lengthAdjust="spacingAndGlyphs" fill="#222" font-family="Liberation Sans" font-weight="bold">200</text>
<text transform="translate(527.4,206.0) rotate(-90)" x="0" y="0" font-size="5.4" textLength="7.0" lengthAdjust="spacingAndGlyphs" fill="#222" font-family="Liberation Sans" font-weight="bold">100</text>
<line x1="533.0" y1="68.5" x2="553.6" y2="68.5" stroke="#6e6e6e" stroke-width="1.0"/>
<polyline points="532.5,68.4 536.5,71.8 540.5,68.4" fill="none" stroke="#6e6e6e" stroke-width="1.0"/>
<text x="536.4" y="67.4" font-size="7" textLength="13.2" lengthAdjust="spacingAndGlyphs" fill="#333" font-family="Liberation Sans" font-weight="bold">±0.000</text>
<line x1="531.5" y1="189.5" x2="550.5" y2="189.5" stroke="#6e6e6e" stroke-width="1.0"/>
<polyline points="529.3,189.8 533.3,193.2 537.3,189.8" fill="none" stroke="#6e6e6e" stroke-width="1.0"/>
<text x="536.0" y="188.8" font-size="7" textLength="13.6" lengthAdjust="spacingAndGlyphs" fill="#333" font-family="Liberation Sans" font-weight="bold">-2.650</text>
<line x1="517.0" y1="193.5" x2="540.5" y2="193.5" stroke="#6e6e6e" stroke-width="1.0"/>
<line x1="423.4" y1="214.5" x2="514.8" y2="214.5" stroke="#6e6e6e" stroke-width="1.0"/>
<line x1="427.4" y1="225.5" x2="510.1" y2="225.5" stroke="#6e6e6e" stroke-width="1.0"/>
<line x1="423.5" y1="204.6" x2="423.5" y2="217.0" stroke="#6e6e6e" stroke-width="1.0"/>
<line x1="459.5" y1="204.6" x2="459.5" y2="217.0" stroke="#6e6e6e" stroke-width="1.0"/>
<line x1="478.5" y1="204.6" x2="478.5" y2="217.0" stroke="#6e6e6e" stroke-width="1.0"/>
<line x1="514.5" y1="204.6" x2="514.5" y2="217.0" stroke="#6e6e6e" stroke-width="1.0"/>
<line x1="427.5" y1="204.6" x2="427.5" y2="228.0" stroke="#6e6e6e" stroke-width="1.0"/>
<line x1="510.5" y1="204.6" x2="510.5" y2="228.0" stroke="#6e6e6e" stroke-width="1.0"/>
<text x="419.0" y="214.3" font-size="6.5" textLength="6.7" lengthAdjust="spacingAndGlyphs" fill="#333" font-family="Liberation Sans" font-weight="bold">100</text>
<text x="438.8" y="214.3" font-size="6.5" textLength="7.2" lengthAdjust="spacingAndGlyphs" fill="#333" font-family="Liberation Sans" font-weight="bold">700</text>
<text x="465.8" y="214.3" font-size="6.5" textLength="7.2" lengthAdjust="spacingAndGlyphs" fill="#333" font-family="Liberation Sans" font-weight="bold">400</text>
<text x="491.4" y="214.3" font-size="6.5" textLength="7.1" lengthAdjust="spacingAndGlyphs" fill="#333" font-family="Liberation Sans" font-weight="bold">700</text>
<text x="514.3" y="214.3" font-size="6.5" textLength="6.3" lengthAdjust="spacingAndGlyphs" fill="#333" font-family="Liberation Sans" font-weight="bold">100</text>
<text x="463.8" y="224.5" font-size="6.5" textLength="9.2" lengthAdjust="spacingAndGlyphs" fill="#333" font-family="Liberation Sans" font-weight="bold">1900</text>
<text x="466.0" y="240.5" font-size="12.366412213740448" textLength="4.5" lengthAdjust="spacingAndGlyphs" fill="#111" font-family="Liberation Serif" font-weight="bold">4</text>
<text x="471.8" y="240.5" font-size="6.2" textLength="7.9" lengthAdjust="spacingAndGlyphs" fill="#333" font-family="Liberation Sans" font-weight="bold">1:30</text>
<line x1="462.4" y1="242.5" x2="479.7" y2="242.5" stroke="#666" stroke-width="1.0"/>
<line x1="631.5" y1="54.6" x2="631.5" y2="63.2" stroke="#6e6e6e" stroke-width="1.0"/>
<line x1="631.5" y1="94.7" x2="631.5" y2="101.1" stroke="#6e6e6e" stroke-width="1.0"/>
<line x1="640.5" y1="54.6" x2="640.5" y2="63.2" stroke="#6e6e6e" stroke-width="1.0"/>
<line x1="640.5" y1="94.7" x2="640.5" y2="101.1" stroke="#6e6e6e" stroke-width="1.0"/>
<line x1="648.5" y1="54.6" x2="648.5" y2="63.2" stroke="#6e6e6e" stroke-width="1.0"/>
<line x1="648.5" y1="94.7" x2="648.5" y2="101.1" stroke="#6e6e6e" stroke-width="1.0"/>
<line x1="657.5" y1="54.6" x2="657.5" y2="63.2" stroke="#6e6e6e" stroke-width="1.0"/>
<line x1="657.5" y1="94.7" x2="657.5" y2="101.1" stroke="#6e6e6e" stroke-width="1.0"/>
<line x1="665.5" y1="54.6" x2="665.5" y2="63.2" stroke="#6e6e6e" stroke-width="1.0"/>
<line x1="665.5" y1="94.7" x2="665.5" y2="101.1" stroke="#6e6e6e" stroke-width="1.0"/>
<line x1="631.8" y1="54.5" x2="684.1" y2="54.5" stroke="#6e6e6e" stroke-width="1.0"/>
<line x1="631.8" y1="101.5" x2="684.1" y2="101.5" stroke="#6e6e6e" stroke-width="1.0"/>
<line x1="630.7" y1="61.8" x2="667.0" y2="61.8" stroke="#999" stroke-width="1.8"/>
<line x1="630.9" y1="63.2" x2="630.9" y2="94.7" stroke="#222" stroke-width="1.7"/>
<line x1="630.7" y1="94.7" x2="666.5" y2="94.7" stroke="#333" stroke-width="1.6"/>
<line x1="666.3" y1="63.2" x2="666.3" y2="94.7" stroke="#444" stroke-width="1.4"/>
<line x1="630.7" y1="63.2" x2="666.5" y2="63.2" stroke="#555" stroke-width="1.2"/>
<line x1="640.5" y1="63.2" x2="640.5" y2="94.7" stroke="#6e6e6e" stroke-width="1.0"/>
<line x1="648.5" y1="66.4" x2="648.5" y2="79.7" stroke="#6e6e6e" stroke-width="1.0"/>
<line x1="657.5" y1="66.4" x2="657.5" y2="94.7" stroke="#6e6e6e" stroke-width="1.0"/>
<line x1="648.8" y1="66.5" x2="666.5" y2="66.5" stroke="#6e6e6e" stroke-width="1.0"/>
<line x1="630.7" y1="73.5" x2="666.5" y2="73.5" stroke="#6e6e6e" stroke-width="1.0"/>
<line x1="630.7" y1="79.7" x2="666.5" y2="79.7" stroke="#999" stroke-width="1.4"/>
<line x1="657.6" y1="89.5" x2="666.5" y2="89.5" stroke="#6e6e6e" stroke-width="1.0"/>
<circle cx="631.0" cy="63.2" r="0.9" fill="#111"/>
<circle cx="631.0" cy="94.7" r="0.9" fill="#111"/>
<circle cx="640.1" cy="63.2" r="0.9" fill="#111"/>
<circle cx="640.1" cy="94.7" r="0.9" fill="#111"/>
<circle cx="648.8" cy="63.2" r="0.9" fill="#111"/>
<circle cx="648.8" cy="94.7" r="0.9" fill="#111"/>
<circle cx="657.6" cy="63.2" r="0.9" fill="#111"/>
<circle cx="657.6" cy="94.7" r="0.9" fill="#111"/>
<circle cx="666.0" cy="63.2" r="0.9" fill="#111"/>
<circle cx="666.0" cy="94.7" r="0.9" fill="#111"/>
<circle cx="631.0" cy="79.7" r="0.9" fill="#111"/>
<circle cx="666.0" cy="79.7" r="0.9" fill="#111"/>
<text x="670.7" y="54.0" font-size="5.5" textLength="11.3" lengthAdjust="spacingAndGlyphs" fill="#333" font-family="Liberation Sans" font-weight="bold">5Φ25</text>
<text x="667.5" y="66.4" font-size="5.5" textLength="18.2" lengthAdjust="spacingAndGlyphs" fill="#333" font-family="Liberation Sans" font-weight="bold">Φ8@100/200</text>
<text x="672.4" y="73.0" font-size="5.5" textLength="9.6" lengthAdjust="spacingAndGlyphs" fill="#333" font-family="Liberation Sans" font-weight="bold">2Φ12</text>
<line x1="666.5" y1="73.5" x2="685.2" y2="73.5" stroke="#6e6e6e" stroke-width="1.0"/>
<text x="668.6" y="88.3" font-size="5.5" textLength="18.2" lengthAdjust="spacingAndGlyphs" fill="#333" font-family="Liberation Sans" font-weight="bold">2Φ8@200</text>
<line x1="666.5" y1="89.5" x2="685.0" y2="89.5" stroke="#6e6e6e" stroke-width="1.0"/>
<text x="671.3" y="100.6" font-size="5.5" textLength="10.7" lengthAdjust="spacingAndGlyphs" fill="#333" font-family="Liberation Sans" font-weight="bold">5Φ20</text>
<line x1="612.5" y1="61.0" x2="612.5" y2="95.0" stroke="#6e6e6e" stroke-width="1.0"/>
<line x1="609.6" y1="61.5" x2="622.8" y2="61.5" stroke="#6e6e6e" stroke-width="1.0"/>
<line x1="599.0" y1="95.5" x2="622.8" y2="95.5" stroke="#6e6e6e" stroke-width="1.0"/>
<text transform="translate(612.4,82.2) rotate(-90)" x="0" y="0" font-size="5.4" textLength="8.4" lengthAdjust="spacingAndGlyphs" fill="#222" font-family="Liberation Sans" font-weight="bold">500</text>
<line x1="588.2" y1="91.5" x2="608.8" y2="91.5" stroke="#6e6e6e" stroke-width="1.0"/>
<polyline points="600.7,91.6 604.7,95.0 608.7,91.6" fill="none" stroke="#6e6e6e" stroke-width="1.0"/>
<text x="591.5" y="90.6" font-size="7" textLength="11.5" lengthAdjust="spacingAndGlyphs" fill="#333" font-family="Liberation Sans" font-weight="bold">-1.850</text>
<line x1="629.0" y1="114.5" x2="668.8" y2="114.5" stroke="#6e6e6e" stroke-width="1.0"/>
<line x1="629.5" y1="105.0" x2="629.5" y2="116.4" stroke="#6e6e6e" stroke-width="1.0"/>
<line x1="668.5" y1="105.0" x2="668.5" y2="116.4" stroke="#6e6e6e" stroke-width="1.0"/>
<text x="645.0" y="111.0" font-size="6.5" textLength="8.2" lengthAdjust="spacingAndGlyphs" fill="#333" font-family="Liberation Sans" font-weight="bold">550</text>
<text x="643.2" y="127.6" font-size="12.824427480916016" textLength="5.0" lengthAdjust="spacingAndGlyphs" fill="#111" font-family="Liberation Serif" font-weight="bold">A</text>
<text x="648.7" y="127.6" font-size="6.2" textLength="9.2" lengthAdjust="spacingAndGlyphs" fill="#333" font-family="Liberation Sans" font-weight="bold">1:30</text>
<line x1="640.0" y1="128.5" x2="656.8" y2="128.5" stroke="#666" stroke-width="1.0"/>
<line x1="633.5" y1="146.4" x2="633.5" y2="153.4" stroke="#6e6e6e" stroke-width="1.0"/>
<line x1="633.5" y1="178.2" x2="633.5" y2="191.1" stroke="#6e6e6e" stroke-width="1.0"/>
<line x1="639.5" y1="146.4" x2="639.5" y2="153.4" stroke="#6e6e6e" stroke-width="1.0"/>
<line x1="639.5" y1="178.2" x2="639.5" y2="191.1" stroke="#6e6e6e" stroke-width="1.0"/>
<line x1="645.5" y1="146.4" x2="645.5" y2="153.4" stroke="#6e6e6e" stroke-width="1.0"/>
<line x1="645.5" y1="178.2" x2="645.5" y2="191.1" stroke="#6e6e6e" stroke-width="1.0"/>
<line x1="651.5" y1="146.4" x2="651.5" y2="153.4" stroke="#6e6e6e" stroke-width="1.0"/>
<line x1="651.5" y1="178.2" x2="651.5" y2="191.1" stroke="#6e6e6e" stroke-width="1.0"/>
<line x1="656.5" y1="146.4" x2="656.5" y2="153.4" stroke="#6e6e6e" stroke-width="1.0"/>
<line x1="656.5" y1="178.2" x2="656.5" y2="191.1" stroke="#6e6e6e" stroke-width="1.0"/>
<line x1="633.4" y1="146.5" x2="675.2" y2="146.5" stroke="#6e6e6e" stroke-width="1.0"/>
<line x1="633.4" y1="191.5" x2="675.2" y2="191.5" stroke="#6e6e6e" stroke-width="1.0"/>
<line x1="631.5" y1="153.5" x2="658.2" y2="153.5" stroke="#6e6e6e" stroke-width="1.0"/>
<line x1="631.5" y1="153.4" x2="631.5" y2="178.2" stroke="#6e6e6e" stroke-width="1.0"/>
<line x1="658.5" y1="153.4" x2="658.5" y2="161.6" stroke="#6e6e6e" stroke-width="1.0"/>
<line x1="632.0" y1="154.5" x2="657.0" y2="154.5" stroke="#333" stroke-width="1.4"/>
<line x1="632.4" y1="154.3" x2="632.4" y2="178.2" stroke="#222" stroke-width="1.4"/>
<line x1="637.5" y1="153.4" x2="637.5" y2="178.2" stroke="#6e6e6e" stroke-width="1.0"/>
<line x1="651.8" y1="153.4" x2="651.8" y2="174.5" stroke="#aaa" stroke-width="1.4"/>
<line x1="651.8" y1="174.5" x2="676.0" y2="174.5" stroke="#6e6e6e" stroke-width="1.0"/>
<circle cx="632.4" cy="154.5" r="0.9" fill="#111"/>
<circle cx="632.4" cy="178.2" r="0.9" fill="#111"/>
<circle cx="638.4" cy="154.5" r="0.9" fill="#111"/>
<circle cx="638.4" cy="178.2" r="0.9" fill="#111"/>
<circle cx="644.9" cy="154.5" r="0.9" fill="#111"/>
<circle cx="644.9" cy="178.2" r="0.9" fill="#111"/>
<circle cx="651.1" cy="154.5" r="0.9" fill="#111"/>
<circle cx="651.1" cy="178.2" r="0.9" fill="#111"/>
<circle cx="656.6" cy="154.5" r="0.9" fill="#111"/>
<circle cx="656.6" cy="178.2" r="0.9" fill="#111"/>
<polyline points="631.5,161.6 603.7,171.4 603.7,180.0" fill="none" stroke="#6e6e6e" stroke-width="1.0"/>
<polyline points="658.2,161.6 687.0,171.6 687.0,180.0" fill="none" stroke="#6e6e6e" stroke-width="1.0"/>
<rect x="598.5" y="180.5" width="92.0" height="5.0" fill="none" stroke="#6e6e6e" stroke-width="1.0"/>
<path d="M664.9 180.9l1.4 -0.9l0.3 1.2z" fill="none" stroke="#666" stroke-width="0.5"/>
<circle cx="639.4" cy="180.9" r="0.55" fill="#666"/>
<circle cx="656.0" cy="182.8" r="0.55" fill="#666"/>
<path d="M688.7 184.0l1.4 -0.9l0.3 1.2z" fill="none" stroke="#666" stroke-width="0.5"/>
<circle cx="609.0" cy="181.9" r="0.55" fill="#666"/>
<circle cx="670.1" cy="181.9" r="0.55" fill="#666"/>
<path d="M637.8 184.4l1.4 -0.9l0.3 1.2z" fill="none" stroke="#666" stroke-width="0.5"/>
<path d="M622.9 181.4l1.4 -0.9l0.3 1.2z" fill="none" stroke="#666" stroke-width="0.5"/>
<circle cx="651.2" cy="183.6" r="0.55" fill="#666"/>
<circle cx="604.7" cy="183.6" r="0.55" fill="#666"/>
<path d="M606.1 184.6l1.4 -0.9l0.3 1.2z" fill="none" stroke="#666" stroke-width="0.5"/>
<path d="M672.1 181.1l1.4 -0.9l0.3 1.2z" fill="none" stroke="#666" stroke-width="0.5"/>
<line x1="605.0" y1="178.6" x2="684.3" y2="178.6" stroke="#666" stroke-width="1.4"/>
<text x="597.8" y="152.0" font-size="6" textLength="17.7" lengthAdjust="spacingAndGlyphs" fill="#333" font-family="Liberation Sans" font-weight="bold">Φ12@200</text>
<line x1="594.8" y1="153.5" x2="618.5" y2="153.5" stroke="#6e6e6e" stroke-width="1.0"/>
<line x1="618.5" y1="153.3" x2="618.5" y2="178.6" stroke="#6e6e6e" stroke-width="1.0"/>
<text x="597.0" y="162.5" font-size="6" textLength="15.0" lengthAdjust="spacingAndGlyphs" fill="#333" font-family="Liberation Sans" font-weight="bold">Φ8@200</text>
<line x1="594.8" y1="163.5" x2="613.1" y2="163.5" stroke="#6e6e6e" stroke-width="1.0"/>
<line x1="613.5" y1="163.9" x2="613.5" y2="178.6" stroke="#6e6e6e" stroke-width="1.0"/>
<text x="661.9" y="145.0" font-size="6" textLength="10.8" lengthAdjust="spacingAndGlyphs" fill="#333" font-family="Liberation Sans" font-weight="bold">5Φ25</text>
<text x="658.9" y="173.5" font-size="6" textLength="18.7" lengthAdjust="spacingAndGlyphs" fill="#333" font-family="Liberation Sans" font-weight="bold">2Φ12@200</text>
<text x="661.9" y="189.0" font-size="6" textLength="10.8" lengthAdjust="spacingAndGlyphs" fill="#333" font-family="Liberation Sans" font-weight="bold">5Φ22</text>
<line x1="703.5" y1="153.2" x2="703.5" y2="185.4" stroke="#6e6e6e" stroke-width="1.0"/>
<line x1="692.9" y1="153.5" x2="705.4" y2="153.5" stroke="#6e6e6e" stroke-width="1.0"/>
<line x1="692.9" y1="162.5" x2="705.4" y2="162.5" stroke="#6e6e6e" stroke-width="1.0"/>
<line x1="692.9" y1="171.5" x2="705.4" y2="171.5" stroke="#6e6e6e" stroke-width="1.0"/>
<line x1="692.9" y1="180.5" x2="705.4" y2="180.5" stroke="#6e6e6e" stroke-width="1.0"/>
<line x1="692.9" y1="185.5" x2="705.4" y2="185.5" stroke="#6e6e6e" stroke-width="1.0"/>
<text transform="translate(700.6,159.9) rotate(-90)" x="0" y="0" font-size="5" textLength="6.3" lengthAdjust="spacingAndGlyphs" fill="#222" font-family="Liberation Sans" font-weight="bold">250</text>
<text transform="translate(700.6,169.9) rotate(-90)" x="0" y="0" font-size="5" textLength="6.9" lengthAdjust="spacingAndGlyphs" fill="#222" font-family="Liberation Sans" font-weight="bold">200</text>
<text transform="translate(700.6,178.9) rotate(-90)" x="0" y="0" font-size="5" textLength="6.8" lengthAdjust="spacingAndGlyphs" fill="#222" font-family="Liberation Sans" font-weight="bold">200</text>
<text transform="translate(700.6,192.0) rotate(-90)" x="0" y="0" font-size="5" textLength="6.0" lengthAdjust="spacingAndGlyphs" fill="#222" font-family="Liberation Sans" font-weight="bold">100</text>
<line x1="706.0" y1="176.5" x2="727.8" y2="176.5" stroke="#6e6e6e" stroke-width="1.0"/>
<polyline points="706.7,176.7 710.7,180.1 714.7,176.7" fill="none" stroke="#6e6e6e" stroke-width="1.0"/>
<text x="712.0" y="175.7" font-size="7" textLength="13.8" lengthAdjust="spacingAndGlyphs" fill="#333" font-family="Liberation Sans" font-weight="bold">-2.650</text>
<line x1="692.9" y1="180.5" x2="716.6" y2="180.5" stroke="#6e6e6e" stroke-width="1.0"/>
<line x1="598.7" y1="202.5" x2="690.9" y2="202.5" stroke="#6e6e6e" stroke-width="1.0"/>
<line x1="603.7" y1="212.5" x2="687.0" y2="212.5" stroke="#6e6e6e" stroke-width="1.0"/>
<line x1="598.5" y1="192.7" x2="598.5" y2="204.0" stroke="#6e6e6e" stroke-width="1.0"/>
<line x1="631.5" y1="192.7" x2="631.5" y2="204.0" stroke="#6e6e6e" stroke-width="1.0"/>
<line x1="658.5" y1="192.7" x2="658.5" y2="204.0" stroke="#6e6e6e" stroke-width="1.0"/>
<line x1="690.5" y1="192.7" x2="690.5" y2="204.0" stroke="#6e6e6e" stroke-width="1.0"/>
<line x1="603.5" y1="192.7" x2="603.5" y2="214.3" stroke="#6e6e6e" stroke-width="1.0"/>
<line x1="687.5" y1="192.7" x2="687.5" y2="214.3" stroke="#6e6e6e" stroke-width="1.0"/>
<text x="594.0" y="201.3" font-size="6.5" textLength="8.0" lengthAdjust="spacingAndGlyphs" fill="#333" font-family="Liberation Sans" font-weight="bold">100</text>
<text x="613.5" y="201.3" font-size="6.5" textLength="8.9" lengthAdjust="spacingAndGlyphs" fill="#333" font-family="Liberation Sans" font-weight="bold">625</text>
<text x="640.2" y="201.3" font-size="6.5" textLength="8.8" lengthAdjust="spacingAndGlyphs" fill="#333" font-family="Liberation Sans" font-weight="bold">550</text>
<text x="665.8" y="201.3" font-size="6.5" textLength="9.9" lengthAdjust="spacingAndGlyphs" fill="#333" font-family="Liberation Sans" font-weight="bold">625</text>
<text x="691.5" y="201.3" font-size="6.5" textLength="6.0" lengthAdjust="spacingAndGlyphs" fill="#333" font-family="Liberation Sans" font-weight="bold">100</text>
<text x="639.2" y="212.0" font-size="6.5" textLength="9.8" lengthAdjust="spacingAndGlyphs" fill="#333" font-family="Liberation Sans" font-weight="bold">1800</text>
<text x="641.6" y="238.7" font-size="13.282442748091585" textLength="6.0" lengthAdjust="spacingAndGlyphs" fill="#111" font-family="Liberation Serif" font-weight="normal">B</text>
<text x="647.8" y="238.7" font-size="6.2" textLength="8.2" lengthAdjust="spacingAndGlyphs" fill="#333" font-family="Liberation Sans" font-weight="bold">1:30</text>
<line x1="638.2" y1="240.5" x2="654.7" y2="240.5" stroke="#666" stroke-width="1.0"/>
<line x1="633.5" y1="264.4" x2="633.5" y2="271.6" stroke="#6e6e6e" stroke-width="1.0"/>
<line x1="633.5" y1="328.0" x2="633.5" y2="340.9" stroke="#6e6e6e" stroke-width="1.0"/>
<line x1="639.5" y1="264.4" x2="639.5" y2="271.6" stroke="#6e6e6e" stroke-width="1.0"/>
<line x1="639.5" y1="328.0" x2="639.5" y2="340.9" stroke="#6e6e6e" stroke-width="1.0"/>
<line x1="645.5" y1="264.4" x2="645.5" y2="271.6" stroke="#6e6e6e" stroke-width="1.0"/>
<line x1="645.5" y1="328.0" x2="645.5" y2="340.9" stroke="#6e6e6e" stroke-width="1.0"/>
<line x1="651.5" y1="264.4" x2="651.5" y2="271.6" stroke="#6e6e6e" stroke-width="1.0"/>
<line x1="651.5" y1="328.0" x2="651.5" y2="340.9" stroke="#6e6e6e" stroke-width="1.0"/>
<line x1="656.5" y1="264.4" x2="656.5" y2="271.6" stroke="#6e6e6e" stroke-width="1.0"/>
<line x1="656.5" y1="328.0" x2="656.5" y2="340.9" stroke="#6e6e6e" stroke-width="1.0"/>
<line x1="633.9" y1="264.5" x2="675.8" y2="264.5" stroke="#6e6e6e" stroke-width="1.0"/>
<line x1="633.9" y1="340.5" x2="675.8" y2="340.5" stroke="#6e6e6e" stroke-width="1.0"/>
<rect x="631.9" y="271.6" width="25.2" height="56.4" fill="none" stroke="#333" stroke-width="1.5"/>
<line x1="632.0" y1="273.0" x2="657.0" y2="273.0" stroke="#333" stroke-width="1.5"/>
<line x1="632.0" y1="290.9" x2="657.0" y2="290.9" stroke="#333" stroke-width="1.5"/>
<line x1="632.0" y1="306.6" x2="657.0" y2="306.6" stroke="#333" stroke-width="1.5"/>
<line x1="632.0" y1="327.0" x2="657.0" y2="327.0" stroke="#333" stroke-width="1.5"/>
<line x1="632.0" y1="278.5" x2="657.0" y2="278.5" stroke="#6e6e6e" stroke-width="1.0"/>
<line x1="632.0" y1="283.5" x2="657.0" y2="283.5" stroke="#6e6e6e" stroke-width="1.0"/>
<line x1="632.0" y1="298.5" x2="657.0" y2="298.5" stroke="#6e6e6e" stroke-width="1.0"/>
<line x1="637.5" y1="273.0" x2="637.5" y2="328.0" stroke="#6e6e6e" stroke-width="1.0"/>
<line x1="651.5" y1="273.0" x2="651.5" y2="328.0" stroke="#6e6e6e" stroke-width="1.0"/>
<line x1="645.5" y1="290.9" x2="645.5" y2="306.6" stroke="#6e6e6e" stroke-width="1.0"/>
<line x1="655.5" y1="273.0" x2="655.5" y2="306.6" stroke="#6e6e6e" stroke-width="1.0"/>
<circle cx="633.0" cy="273.0" r="0.9" fill="#111"/>
<circle cx="638.0" cy="273.0" r="0.9" fill="#111"/>
<circle cx="645.0" cy="273.0" r="0.9" fill="#111"/>
<circle cx="651.4" cy="273.0" r="0.9" fill="#111"/>
<circle cx="656.0" cy="273.0" r="0.9" fill="#111"/>
<circle cx="633.0" cy="290.9" r="0.9" fill="#111"/>
<circle cx="638.0" cy="290.9" r="0.9" fill="#111"/>
<circle cx="645.0" cy="290.9" r="0.9" fill="#111"/>
<circle cx="651.4" cy="290.9" r="0.9" fill="#111"/>
<circle cx="656.0" cy="290.9" r="0.9" fill="#111"/>
<circle cx="633.0" cy="306.6" r="0.9" fill="#111"/>
<circle cx="638.0" cy="306.6" r="0.9" fill="#111"/>
<circle cx="645.0" cy="306.6" r="0.9" fill="#111"/>
<circle cx="651.4" cy="306.6" r="0.9" fill="#111"/>
<circle cx="656.0" cy="306.6" r="0.9" fill="#111"/>
<circle cx="633.0" cy="327.0" r="0.9" fill="#111"/>
<circle cx="638.0" cy="327.0" r="0.9" fill="#111"/>
<circle cx="645.0" cy="327.0" r="0.9" fill="#111"/>
<circle cx="651.4" cy="327.0" r="0.9" fill="#111"/>
<circle cx="656.0" cy="327.0" r="0.9" fill="#111"/>
<text x="662.5" y="262.5" font-size="6" textLength="10.3" lengthAdjust="spacingAndGlyphs" fill="#333" font-family="Liberation Sans" font-weight="bold">5Φ25</text>
<text x="663.2" y="275.5" font-size="6" textLength="7.4" lengthAdjust="spacingAndGlyphs" fill="#333" font-family="Liberation Sans" font-weight="bold">2Φ12</text>
<line x1="657.3" y1="277.5" x2="675.0" y2="277.5" stroke="#6e6e6e" stroke-width="1.0"/>
<text x="658.8" y="286.0" font-size="6" textLength="17.0" lengthAdjust="spacingAndGlyphs" fill="#333" font-family="Liberation Sans" font-weight="bold">Φ12@100</text>
<line x1="644.0" y1="287.5" x2="675.8" y2="287.5" stroke="#6e6e6e" stroke-width="1.0"/>
<line x1="644.5" y1="283.0" x2="644.5" y2="287.2" stroke="#6e6e6e" stroke-width="1.0"/>
<text x="661.0" y="297.0" font-size="6" textLength="11.1" lengthAdjust="spacingAndGlyphs" fill="#333" font-family="Liberation Sans" font-weight="bold">10Φ20</text>
<line x1="657.3" y1="298.5" x2="675.8" y2="298.5" stroke="#6e6e6e" stroke-width="1.0"/>
<polyline points="631.9,311.2 603.3,321.6 603.3,330.4" fill="none" stroke="#6e6e6e" stroke-width="1.0"/>
<polyline points="657.3,311.2 686.6,321.7 686.6,330.4" fill="none" stroke="#6e6e6e" stroke-width="1.0"/>
<rect x="598.5" y="330.5" width="92.0" height="5.0" fill="none" stroke="#6e6e6e" stroke-width="1.0"/>
<circle cx="605.1" cy="334.1" r="0.55" fill="#666"/>
<path d="M629.9 333.1l1.4 -0.9l0.3 1.2z" fill="none" stroke="#666" stroke-width="0.5"/>
<path d="M623.4 331.6l1.4 -0.9l0.3 1.2z" fill="none" stroke="#666" stroke-width="0.5"/>
<circle cx="620.7" cy="331.6" r="0.55" fill="#666"/>
<circle cx="603.6" cy="331.9" r="0.55" fill="#666"/>
<circle cx="626.8" cy="333.8" r="0.55" fill="#666"/>
<circle cx="644.5" cy="331.8" r="0.55" fill="#666"/>
<circle cx="600.7" cy="332.1" r="0.55" fill="#666"/>
<circle cx="665.7" cy="333.1" r="0.55" fill="#666"/>
<circle cx="642.2" cy="334.4" r="0.55" fill="#666"/>
<circle cx="673.5" cy="332.7" r="0.55" fill="#666"/>
<path d="M674.9 332.5l1.4 -0.9l0.3 1.2z" fill="none" stroke="#666" stroke-width="0.5"/>
<line x1="605.0" y1="328.3" x2="684.0" y2="328.3" stroke="#666" stroke-width="1.4"/>
<text x="597.4" y="302.5" font-size="6" textLength="17.7" lengthAdjust="spacingAndGlyphs" fill="#333" font-family="Liberation Sans" font-weight="bold">Φ12@200</text>
<line x1="596.7" y1="303.5" x2="618.1" y2="303.5" stroke="#6e6e6e" stroke-width="1.0"/>
<line x1="618.5" y1="303.8" x2="618.5" y2="328.2" stroke="#6e6e6e" stroke-width="1.0"/>
<text x="595.2" y="312.0" font-size="6" textLength="16.2" lengthAdjust="spacingAndGlyphs" fill="#333" font-family="Liberation Sans" font-weight="bold">Φ8@200</text>
<line x1="593.7" y1="313.5" x2="612.9" y2="313.5" stroke="#6e6e6e" stroke-width="1.0"/>
<line x1="612.5" y1="313.4" x2="612.5" y2="328.2" stroke="#6e6e6e" stroke-width="1.0"/>
<text x="659.5" y="323.0" font-size="6" textLength="16.3" lengthAdjust="spacingAndGlyphs" fill="#333" font-family="Liberation Sans" font-weight="bold">Φ12@200</text>
<line x1="651.4" y1="324.5" x2="675.8" y2="324.5" stroke="#6e6e6e" stroke-width="1.0"/>
<text x="662.5" y="339.5" font-size="6" textLength="11.1" lengthAdjust="spacingAndGlyphs" fill="#333" font-family="Liberation Sans" font-weight="bold">5Φ22</text>
<line x1="703.5" y1="270.7" x2="703.5" y2="335.5" stroke="#6e6e6e" stroke-width="1.0"/>
<line x1="693.3" y1="270.7" x2="716.2" y2="270.7" stroke="#777" stroke-width="1.5"/>
<line x1="693.3" y1="312.5" x2="705.5" y2="312.5" stroke="#6e6e6e" stroke-width="1.0"/>
<line x1="693.3" y1="321.5" x2="705.5" y2="321.5" stroke="#6e6e6e" stroke-width="1.0"/>
<line x1="693.3" y1="335.5" x2="705.5" y2="335.5" stroke="#6e6e6e" stroke-width="1.0"/>
<line x1="693.3" y1="330.5" x2="716.0" y2="330.5" stroke="#6e6e6e" stroke-width="1.0"/>
<text transform="translate(702.0,296.0) rotate(-90)" x="0" y="0" font-size="5" textLength="7.5" lengthAdjust="spacingAndGlyphs" fill="#222" font-family="Liberation Sans" font-weight="bold">900</text>
<text transform="translate(702.0,319.5) rotate(-90)" x="0" y="0" font-size="5" textLength="6.9" lengthAdjust="spacingAndGlyphs" fill="#222" font-family="Liberation Sans" font-weight="bold">250</text>
<text transform="translate(702.0,329.1) rotate(-90)" x="0" y="0" font-size="5" textLength="6.9" lengthAdjust="spacingAndGlyphs" fill="#222" font-family="Liberation Sans" font-weight="bold">200</text>
<text transform="translate(702.0,342.5) rotate(-90)" x="0" y="0" font-size="5" textLength="5.9" lengthAdjust="spacingAndGlyphs" fill="#222" font-family="Liberation Sans" font-weight="bold">100</text>
<line x1="705.9" y1="267.5" x2="727.3" y2="267.5" stroke="#6e6e6e" stroke-width="1.0"/>
<polyline points="705.6,267.3 709.6,270.7 713.6,267.3" fill="none" stroke="#6e6e6e" stroke-width="1.0"/>
<text x="711.8" y="266.3" font-size="7" textLength="12.5" lengthAdjust="spacingAndGlyphs" fill="#333" font-family="Liberation Sans" font-weight="bold">-1.350</text>
<line x1="705.9" y1="326.5" x2="727.3" y2="326.5" stroke="#6e6e6e" stroke-width="1.0"/>
<polyline points="705.6,326.9 709.6,330.3 713.6,326.9" fill="none" stroke="#6e6e6e" stroke-width="1.0"/>
<text x="712.0" y="325.9" font-size="7" textLength="13.0" lengthAdjust="spacingAndGlyphs" fill="#333" font-family="Liberation Sans" font-weight="bold">-2.650</text>
<line x1="598.4" y1="352.5" x2="690.5" y2="352.5" stroke="#6e6e6e" stroke-width="1.0"/>
<line x1="603.6" y1="363.5" x2="686.4" y2="363.5" stroke="#6e6e6e" stroke-width="1.0"/>
<line x1="598.5" y1="342.0" x2="598.5" y2="354.0" stroke="#6e6e6e" stroke-width="1.0"/>
<line x1="630.5" y1="342.0" x2="630.5" y2="354.0" stroke="#6e6e6e" stroke-width="1.0"/>
<line x1="658.5" y1="342.0" x2="658.5" y2="354.0" stroke="#6e6e6e" stroke-width="1.0"/>
<line x1="690.5" y1="342.0" x2="690.5" y2="354.0" stroke="#6e6e6e" stroke-width="1.0"/>
<line x1="603.5" y1="342.0" x2="603.5" y2="365.0" stroke="#6e6e6e" stroke-width="1.0"/>
<line x1="686.5" y1="342.0" x2="686.5" y2="365.0" stroke="#6e6e6e" stroke-width="1.0"/>
<text x="594.7" y="351.5" font-size="6.5" textLength="7.3" lengthAdjust="spacingAndGlyphs" fill="#333" font-family="Liberation Sans" font-weight="bold">100</text>
<text x="614.0" y="351.5" font-size="6.5" textLength="9.3" lengthAdjust="spacingAndGlyphs" fill="#333" font-family="Liberation Sans" font-weight="bold">625</text>
<text x="640.8" y="351.5" font-size="6.5" textLength="8.2" lengthAdjust="spacingAndGlyphs" fill="#333" font-family="Liberation Sans" font-weight="bold">550</text>
<text x="666.6" y="351.5" font-size="6.5" textLength="9.2" lengthAdjust="spacingAndGlyphs" fill="#333" font-family="Liberation Sans" font-weight="bold">625</text>
<text x="691.0" y="351.5" font-size="6.5" textLength="6.0" lengthAdjust="spacingAndGlyphs" fill="#333" font-family="Liberation Sans" font-weight="bold">100</text>
<text x="640.0" y="362.5" font-size="6.5" textLength="9.0" lengthAdjust="spacingAndGlyphs" fill="#333" font-family="Liberation Sans" font-weight="bold">1800</text>
<text x="641.6" y="388.8" font-size="13.587786259542037" textLength="5.5" lengthAdjust="spacingAndGlyphs" fill="#111" font-family="Liberation Serif" font-weight="normal">C</text>
<text x="647.4" y="388.8" font-size="6.2" textLength="8.6" lengthAdjust="spacingAndGlyphs" fill="#333" font-family="Liberation Sans" font-weight="bold">1:30</text>
<line x1="638.2" y1="390.5" x2="654.7" y2="390.5" stroke="#666" stroke-width="1.0"/>
<line x1="43.2" y1="339.5" x2="67.2" y2="339.5" stroke="#6e6e6e" stroke-width="1.0"/>
<clipPath id="c687"><rect x="47.6" y="339.5" width="13.7" height="31.9"/></clipPath><g clip-path="url(#c687)">
<line x1="15.7" y1="371.4" x2="47.6" y2="339.5" stroke="#666" stroke-width="0.6"/>
<line x1="20.2" y1="371.4" x2="52.1" y2="339.5" stroke="#666" stroke-width="0.6"/>
<line x1="24.7" y1="371.4" x2="56.6" y2="339.5" stroke="#666" stroke-width="0.6"/>
<line x1="29.2" y1="371.4" x2="61.1" y2="339.5" stroke="#666" stroke-width="0.6"/>
<line x1="33.7" y1="371.4" x2="65.6" y2="339.5" stroke="#666" stroke-width="0.6"/>
<line x1="38.2" y1="371.4" x2="70.1" y2="339.5" stroke="#666" stroke-width="0.6"/>
<line x1="42.7" y1="371.4" x2="74.6" y2="339.5" stroke="#666" stroke-width="0.6"/>
<line x1="47.2" y1="371.4" x2="79.1" y2="339.5" stroke="#666" stroke-width="0.6"/>
<line x1="51.7" y1="371.4" x2="83.6" y2="339.5" stroke="#666" stroke-width="0.6"/>
<line x1="56.2" y1="371.4" x2="88.1" y2="339.5" stroke="#666" stroke-width="0.6"/>
<line x1="60.7" y1="371.4" x2="92.6" y2="339.5" stroke="#666" stroke-width="0.6"/>
</g>
<line x1="47.6" y1="339.5" x2="47.6" y2="375.4" stroke="#333" stroke-width="1.2"/>
<line x1="61.3" y1="339.5" x2="61.3" y2="352.1" stroke="#333" stroke-width="1.2"/>
<line x1="61.3" y1="348.5" x2="150.2" y2="348.5" stroke="#6e6e6e" stroke-width="1.0"/>
<line x1="150.2" y1="348.4" x2="160.0" y2="348.4" stroke="#777" stroke-width="1.4"/>
<text x="75.0" y="351.0" font-size="5" textLength="17.0" lengthAdjust="spacingAndGlyphs" fill="#888" font-family="Liberation Sans" font-weight="bold">///////</text>
<rect x="52.5" y="352.5" width="14.0" height="19.0" fill="#fff" stroke="#6e6e6e" stroke-width="1.0"/>
<text x="67.8" y="360.5" font-size="6" textLength="4.2" lengthAdjust="spacingAndGlyphs" fill="#333" font-family="Liberation Sans" font-weight="bold">LL</text>
<line x1="60.3" y1="361.5" x2="74.2" y2="361.5" stroke="#6e6e6e" stroke-width="1.0"/>
<rect x="47.4" y="371.4" width="22.0" height="4.0" fill="none" stroke="#333" stroke-width="1.2"/>
<rect x="66.5" y="366.5" width="61.0" height="3.0" fill="none" stroke="#333" stroke-width="1.0"/>
<circle cx="108.1" cy="368.8" r="0.55" fill="#333"/>
<path d="M116.7 368.4l1.4 -0.9l0.3 1.2z" fill="none" stroke="#333" stroke-width="0.5"/>
<circle cx="91.3" cy="367.9" r="0.55" fill="#333"/>
<path d="M75.0 367.5l1.4 -0.9l0.3 1.2z" fill="none" stroke="#333" stroke-width="0.5"/>
<circle cx="82.5" cy="367.6" r="0.55" fill="#333"/>
<path d="M117.2 368.6l1.4 -0.9l0.3 1.2z" fill="none" stroke="#333" stroke-width="0.5"/>
<circle cx="84.0" cy="367.7" r="0.55" fill="#333"/>
<circle cx="94.5" cy="367.6" r="0.55" fill="#333"/>
<path d="M82.9 368.7l1.4 -0.9l0.3 1.2z" fill="none" stroke="#333" stroke-width="0.5"/>
<path d="M99.7 367.7l1.4 -0.9l0.3 1.2z" fill="none" stroke="#333" stroke-width="0.5"/>
<circle cx="85.7" cy="367.9" r="0.55" fill="#333"/>
<path d="M89.9 368.1l1.4 -0.9l0.3 1.2z" fill="none" stroke="#333" stroke-width="0.5"/>
<circle cx="79.2" cy="368.1" r="0.55" fill="#333"/>
<circle cx="83.0" cy="367.5" r="0.55" fill="#333"/>
<circle cx="69.8" cy="367.4" r="0.55" fill="#333"/>
<path d="M81.1 368.2l1.4 -0.9l0.3 1.2z" fill="none" stroke="#333" stroke-width="0.5"/>
<path d="M111.8 368.3l1.4 -0.9l0.3 1.2z" fill="none" stroke="#333" stroke-width="0.5"/>
<circle cx="119.4" cy="367.9" r="0.55" fill="#333"/>
<path d="M125.7 367.6l1.4 -0.9l0.3 1.2z" fill="none" stroke="#333" stroke-width="0.5"/>
<path d="M105.4 367.5l1.4 -0.9l0.3 1.2z" fill="none" stroke="#333" stroke-width="0.5"/>
<path d="M120.2 368.3l1.4 -0.9l0.3 1.2z" fill="none" stroke="#333" stroke-width="0.5"/>
<path d="M115.5 367.6l1.4 -0.9l0.3 1.2z" fill="none" stroke="#333" stroke-width="0.5"/>
<path d="M97.2 368.6l1.4 -0.9l0.3 1.2z" fill="none" stroke="#333" stroke-width="0.5"/>
<path d="M116.3 368.2l1.4 -0.9l0.3 1.2z" fill="none" stroke="#333" stroke-width="0.5"/>
<circle cx="107.8" cy="368.4" r="0.55" fill="#333"/>
<circle cx="69.1" cy="367.6" r="0.55" fill="#333"/>
<path d="M73.5 368.6l1.4 -0.9l0.3 1.2z" fill="none" stroke="#333" stroke-width="0.5"/>
<path d="M104.5 368.3l1.4 -0.9l0.3 1.2z" fill="none" stroke="#333" stroke-width="0.5"/>
<path d="M96.3 367.4l1.4 -0.9l0.3 1.2z" fill="none" stroke="#333" stroke-width="0.5"/>
<path d="M111.7 368.1l1.4 -0.9l0.3 1.2z" fill="none" stroke="#333" stroke-width="0.5"/>
<text x="93.2" y="378.3" font-size="6" textLength="12.3" lengthAdjust="spacingAndGlyphs" fill="#333" font-family="Liberation Sans" font-weight="bold">GBJ2.1</text>
<polyline points="91.6,369.6 91.6,379.0 105.5,379.0" fill="none" stroke="#6e6e6e" stroke-width="1.0"/>
<clipPath id="c742"><rect x="54.4" y="375.4" width="11.2" height="50.4"/></clipPath><g clip-path="url(#c742)">
<line x1="4.0" y1="425.8" x2="54.4" y2="375.4" stroke="#666" stroke-width="0.6"/>
<line x1="8.5" y1="425.8" x2="58.9" y2="375.4" stroke="#666" stroke-width="0.6"/>
<line x1="13.0" y1="425.8" x2="63.4" y2="375.4" stroke="#666" stroke-width="0.6"/>
<line x1="17.5" y1="425.8" x2="67.9" y2="375.4" stroke="#666" stroke-width="0.6"/>
<line x1="22.0" y1="425.8" x2="72.4" y2="375.4" stroke="#666" stroke-width="0.6"/>
<line x1="26.5" y1="425.8" x2="76.9" y2="375.4" stroke="#666" stroke-width="0.6"/>
<line x1="31.0" y1="425.8" x2="81.4" y2="375.4" stroke="#666" stroke-width="0.6"/>
<line x1="35.5" y1="425.8" x2="85.9" y2="375.4" stroke="#666" stroke-width="0.6"/>
<line x1="40.0" y1="425.8" x2="90.4" y2="375.4" stroke="#666" stroke-width="0.6"/>
<line x1="44.5" y1="425.8" x2="94.9" y2="375.4" stroke="#666" stroke-width="0.6"/>
<line x1="49.0" y1="425.8" x2="99.4" y2="375.4" stroke="#666" stroke-width="0.6"/>
<line x1="53.5" y1="425.8" x2="103.9" y2="375.4" stroke="#666" stroke-width="0.6"/>
<line x1="58.0" y1="425.8" x2="108.4" y2="375.4" stroke="#666" stroke-width="0.6"/>
<line x1="62.5" y1="425.8" x2="112.9" y2="375.4" stroke="#666" stroke-width="0.6"/>
</g>
<line x1="54.4" y1="375.4" x2="54.4" y2="425.8" stroke="#333" stroke-width="1.1"/>
<line x1="65.6" y1="375.4" x2="65.6" y2="425.8" stroke="#333" stroke-width="1.1"/>
<line x1="67.5" y1="369.6" x2="67.5" y2="424.2" stroke="#6e6e6e" stroke-width="1.0"/>
<line x1="67.5" y1="424.5" x2="120.6" y2="424.5" stroke="#6e6e6e" stroke-width="1.0"/>
<line x1="67.7" y1="418.5" x2="115.0" y2="418.5" stroke="#6e6e6e" stroke-width="1.0"/>
<clipPath id="c763"><rect x="121.4" y="370.4" width="11.0" height="55.1"/></clipPath><g clip-path="url(#c763)">
<line x1="66.3" y1="425.5" x2="121.4" y2="370.4" stroke="#666" stroke-width="0.6"/>
<line x1="70.8" y1="425.5" x2="125.9" y2="370.4" stroke="#666" stroke-width="0.6"/>
<line x1="75.3" y1="425.5" x2="130.4" y2="370.4" stroke="#666" stroke-width="0.6"/>
<line x1="79.8" y1="425.5" x2="134.9" y2="370.4" stroke="#666" stroke-width="0.6"/>
<line x1="84.3" y1="425.5" x2="139.4" y2="370.4" stroke="#666" stroke-width="0.6"/>
<line x1="88.8" y1="425.5" x2="143.9" y2="370.4" stroke="#666" stroke-width="0.6"/>
<line x1="93.3" y1="425.5" x2="148.4" y2="370.4" stroke="#666" stroke-width="0.6"/>
<line x1="97.8" y1="425.5" x2="152.9" y2="370.4" stroke="#666" stroke-width="0.6"/>
<line x1="102.3" y1="425.5" x2="157.4" y2="370.4" stroke="#666" stroke-width="0.6"/>
<line x1="106.8" y1="425.5" x2="161.9" y2="370.4" stroke="#666" stroke-width="0.6"/>
<line x1="111.3" y1="425.5" x2="166.4" y2="370.4" stroke="#666" stroke-width="0.6"/>
<line x1="115.8" y1="425.5" x2="170.9" y2="370.4" stroke="#666" stroke-width="0.6"/>
<line x1="120.3" y1="425.5" x2="175.4" y2="370.4" stroke="#666" stroke-width="0.6"/>
<line x1="124.8" y1="425.5" x2="179.9" y2="370.4" stroke="#666" stroke-width="0.6"/>
<line x1="129.3" y1="425.5" x2="184.4" y2="370.4" stroke="#666" stroke-width="0.6"/>
</g>
<rect x="121.4" y="370.4" width="11.0" height="55.1" fill="none" stroke="#333" stroke-width="1.1"/>
<line x1="50.0" y1="397.5" x2="138.7" y2="397.5" stroke="#6e6e6e" stroke-width="1.0"/>
<text x="86.2" y="395.5" font-size="6" textLength="8.0" lengthAdjust="spacingAndGlyphs" fill="#333" font-family="Liberation Sans" font-weight="bold">1200</text>
<text x="124.2" y="395.5" font-size="6" textLength="6.4" lengthAdjust="spacingAndGlyphs" fill="#333" font-family="Liberation Sans" font-weight="bold">240</text>
<text x="134.3" y="395.5" font-size="6" textLength="5.7" lengthAdjust="spacingAndGlyphs" fill="#333" font-family="Liberation Sans" font-weight="bold">100</text>
<text x="74.8" y="409.2" font-size="6.5" textLength="38.7" lengthAdjust="spacingAndGlyphs" fill="#151515" font-family="Liberation Serif" font-weight="bold">抹20厚 1:2.5水泥</text>
<text x="74.8" y="417.0" font-size="6.5" textLength="38.7" lengthAdjust="spacingAndGlyphs" fill="#151515" font-family="Liberation Serif" font-weight="bold">砂浆加5%防水剂</text>
<rect x="50.5" y="426.5" width="88.0" height="5.0" fill="none" stroke="#6e6e6e" stroke-width="1.0"/>
<path d="M108.3 427.3l1.4 -0.9l0.3 1.2z" fill="none" stroke="#555" stroke-width="0.5"/>
<circle cx="73.0" cy="427.4" r="0.55" fill="#555"/>
<path d="M114.4 427.8l1.4 -0.9l0.3 1.2z" fill="none" stroke="#555" stroke-width="0.5"/>
<circle cx="135.8" cy="428.8" r="0.55" fill="#555"/>
<path d="M92.7 429.4l1.4 -0.9l0.3 1.2z" fill="none" stroke="#555" stroke-width="0.5"/>
<circle cx="104.7" cy="429.3" r="0.55" fill="#555"/>
<path d="M63.9 428.0l1.4 -0.9l0.3 1.2z" fill="none" stroke="#555" stroke-width="0.5"/>
<circle cx="77.5" cy="429.0" r="0.55" fill="#555"/>
<path d="M56.4 428.0l1.4 -0.9l0.3 1.2z" fill="none" stroke="#555" stroke-width="0.5"/>
<circle cx="111.2" cy="429.4" r="0.55" fill="#555"/>
<circle cx="95.9" cy="428.7" r="0.55" fill="#555"/>
<circle cx="61.4" cy="430.1" r="0.55" fill="#555"/>
<circle cx="136.0" cy="430.3" r="0.55" fill="#555"/>
<path d="M90.9 429.9l1.4 -0.9l0.3 1.2z" fill="none" stroke="#555" stroke-width="0.5"/>
<circle cx="90.1" cy="428.0" r="0.55" fill="#555"/>
<path d="M133.2 427.8l1.4 -0.9l0.3 1.2z" fill="none" stroke="#555" stroke-width="0.5"/>
<path d="M63.4 428.9l1.4 -0.9l0.3 1.2z" fill="none" stroke="#555" stroke-width="0.5"/>
<path d="M62.6 429.9l1.4 -0.9l0.3 1.2z" fill="none" stroke="#555" stroke-width="0.5"/>
<circle cx="128.1" cy="429.5" r="0.55" fill="#555"/>
<circle cx="129.0" cy="428.8" r="0.55" fill="#555"/>
<text x="116.6" y="437.5" font-size="6" textLength="6.4" lengthAdjust="spacingAndGlyphs" fill="#333" font-family="Liberation Sans" font-weight="bold">C15</text>
<polyline points="114.3,431.3 114.3,438.4 124.5,438.4" fill="none" stroke="#6e6e6e" stroke-width="1.0"/>
<text x="87.4" y="441.5" font-size="6.5" textLength="19.0" lengthAdjust="spacingAndGlyphs" fill="#151515" font-family="Liberation Serif" font-weight="bold">素土夯实</text>
<text x="75.8" y="453.7" font-size="13.282442748091585" textLength="4.5" lengthAdjust="spacingAndGlyphs" fill="#111" font-family="Liberation Serif" font-weight="bold">5</text>
<text x="80.8" y="453.7" font-size="6.2" textLength="8.7" lengthAdjust="spacingAndGlyphs" fill="#333" font-family="Liberation Sans" font-weight="bold">1:30</text>
<line x1="72.4" y1="455.5" x2="89.0" y2="455.5" stroke="#666" stroke-width="1.0"/>
<line x1="23.5" y1="347.8" x2="23.5" y2="431.0" stroke="#6e6e6e" stroke-width="1.0"/>
<line x1="20.2" y1="347.5" x2="33.5" y2="347.5" stroke="#6e6e6e" stroke-width="1.0"/>
<line x1="20.2" y1="352.5" x2="33.5" y2="352.5" stroke="#6e6e6e" stroke-width="1.0"/>
<line x1="20.2" y1="375.5" x2="33.5" y2="375.5" stroke="#6e6e6e" stroke-width="1.0"/>
<line x1="18.7" y1="426.5" x2="33.7" y2="426.5" stroke="#6e6e6e" stroke-width="1.0"/>
<line x1="18.7" y1="431.5" x2="33.7" y2="431.5" stroke="#6e6e6e" stroke-width="1.0"/>
<text transform="translate(22.9,351.0) rotate(-90)" x="0" y="0" font-size="5.4" textLength="7.0" lengthAdjust="spacingAndGlyphs" fill="#222" font-family="Liberation Sans" font-weight="bold">100</text>
<text transform="translate(22.9,366.7) rotate(-90)" x="0" y="0" font-size="5.4" textLength="8.4" lengthAdjust="spacingAndGlyphs" fill="#222" font-family="Liberation Sans" font-weight="bold">200</text>
<text transform="translate(22.9,406.1) rotate(-90)" x="0" y="0" font-size="5.4" textLength="11.2" lengthAdjust="spacingAndGlyphs" fill="#222" font-family="Liberation Sans" font-weight="bold">1100</text>
<text transform="translate(22.9,434.0) rotate(-90)" x="0" y="0" font-size="5.4" textLength="7.0" lengthAdjust="spacingAndGlyphs" fill="#222" font-family="Liberation Sans" font-weight="bold">100</text>
<line x1="25.0" y1="365.5" x2="46.4" y2="365.5" stroke="#6e6e6e" stroke-width="1.0"/>
<polyline points="38.0,365.3 42.0,368.7 46.0,365.3" fill="none" stroke="#6e6e6e" stroke-width="1.0"/>
<text x="29.8" y="364.3" font-size="7" textLength="13.4" lengthAdjust="spacingAndGlyphs" fill="#333" font-family="Liberation Sans" font-weight="bold">-0.450</text>
<line x1="31.4" y1="368.5" x2="47.0" y2="368.5" stroke="#6e6e6e" stroke-width="1.0"/>
<text x="36.7" y="384.3" font-size="6" textLength="7.5" lengthAdjust="spacingAndGlyphs" fill="#333" font-family="Liberation Sans" font-weight="bold">200</text>
<line x1="29.3" y1="385.5" x2="54.0" y2="385.5" stroke="#6e6e6e" stroke-width="1.0"/>
<text x="33.0" y="390.5" font-size="6" textLength="16.0" lengthAdjust="spacingAndGlyphs" fill="#333" font-family="Liberation Sans" font-weight="bold">Φ10@200</text>
<text x="57.0" y="394.0" font-size="6" textLength="7.0" lengthAdjust="spacingAndGlyphs" fill="#333" font-family="Liberation Sans" font-weight="bold">240</text>
<text transform="translate(51.9,395.0) rotate(-90)" x="0" y="0" font-size="5.4" textLength="7.0" lengthAdjust="spacingAndGlyphs" fill="#222" font-family="Liberation Sans" font-weight="bold">100</text>
<text transform="translate(82.9,380.2) rotate(-90)" x="0" y="0" font-size="5.4" textLength="8.4" lengthAdjust="spacingAndGlyphs" fill="#222" font-family="Liberation Sans" font-weight="bold">200</text>
<line x1="72.0" y1="371.5" x2="83.8" y2="371.5" stroke="#6e6e6e" stroke-width="1.0"/>
<line x1="72.0" y1="375.5" x2="83.8" y2="375.5" stroke="#6e6e6e" stroke-width="1.0"/>
<text x="71.5" y="385.3" font-size="5.5" textLength="6.9" lengthAdjust="spacingAndGlyphs" fill="#333" font-family="Liberation Sans" font-weight="bold">100</text>
<line x1="70.5" y1="375.4" x2="70.5" y2="385.3" stroke="#6e6e6e" stroke-width="1.0"/>
<line x1="50.5" y1="397.4" x2="50.5" y2="411.6" stroke="#6e6e6e" stroke-width="1.0"/>
<line x1="150.5" y1="348.2" x2="150.5" y2="431.3" stroke="#6e6e6e" stroke-width="1.0"/>
<line x1="138.7" y1="367.5" x2="152.6" y2="367.5" stroke="#6e6e6e" stroke-width="1.0"/>
<line x1="138.7" y1="370.5" x2="152.6" y2="370.5" stroke="#6e6e6e" stroke-width="1.0"/>
<line x1="138.7" y1="425.5" x2="152.6" y2="425.5" stroke="#6e6e6e" stroke-width="1.0"/>
<line x1="138.7" y1="431.5" x2="152.6" y2="431.5" stroke="#6e6e6e" stroke-width="1.0"/>
<text transform="translate(149.9,362.2) rotate(-90)" x="0" y="0" font-size="5.4" textLength="8.4" lengthAdjust="spacingAndGlyphs" fill="#222" font-family="Liberation Sans" font-weight="bold">450</text>
<text x="152.5" y="370.0" font-size="5.5" textLength="5.0" lengthAdjust="spacingAndGlyphs" fill="#333" font-family="Liberation Sans" font-weight="bold">50</text>
<text transform="translate(149.9,378.0) rotate(-90)" x="0" y="0" font-size="5.4" textLength="7.0" lengthAdjust="spacingAndGlyphs" fill="#222" font-family="Liberation Sans" font-weight="bold">200</text>
<text transform="translate(149.9,402.6) rotate(-90)" x="0" y="0" font-size="5.4" textLength="11.2" lengthAdjust="spacingAndGlyphs" fill="#222" font-family="Liberation Sans" font-weight="bold">1200</text>
<text transform="translate(149.9,439.0) rotate(-90)" x="0" y="0" font-size="5.4" textLength="7.0" lengthAdjust="spacingAndGlyphs" fill="#222" font-family="Liberation Sans" font-weight="bold">100</text>
<line x1="153.6" y1="344.5" x2="171.6" y2="344.5" stroke="#6e6e6e" stroke-width="1.0"/>
<polyline points="151.4,344.8 155.4,348.2 159.4,344.8" fill="none" stroke="#6e6e6e" stroke-width="1.0"/>
<text x="157.2" y="343.8" font-size="7" textLength="12.6" lengthAdjust="spacingAndGlyphs" fill="#333" font-family="Liberation Sans" font-weight="bold">±0.000</text>
<line x1="153.6" y1="422.5" x2="173.5" y2="422.5" stroke="#6e6e6e" stroke-width="1.0"/>
<polyline points="151.0,422.5 155.0,425.9 159.0,422.5" fill="none" stroke="#6e6e6e" stroke-width="1.0"/>
<text x="160.8" y="421.5" font-size="7" textLength="10.8" lengthAdjust="spacingAndGlyphs" fill="#333" font-family="Liberation Sans" font-weight="bold">-1.700</text>
<line x1="136.5" y1="397.6" x2="136.5" y2="412.4" stroke="#6e6e6e" stroke-width="1.0"/>
<text x="283.3" y="317.2" font-size="13.5" textLength="5.8" lengthAdjust="spacingAndGlyphs" fill="#222" font-family="Liberation Serif" font-weight="normal">C</text>
<line x1="289.5" y1="306.9" x2="289.5" y2="318.5" stroke="#555" stroke-width="1.0"/>
<text x="246.8" y="351.7" font-size="15" textLength="5.8" lengthAdjust="spacingAndGlyphs" fill="#222" font-family="Liberation Serif" font-weight="normal">B</text>
<line x1="243.5" y1="340.8" x2="243.5" y2="353.5" stroke="#555" stroke-width="1.0"/>
<text x="359.4" y="358.2" font-size="12.5" textLength="5.0" lengthAdjust="spacingAndGlyphs" fill="#222" font-family="Liberation Serif" font-weight="normal">A</text>
<line x1="354.5" y1="348.0" x2="354.5" y2="359.8" stroke="#555" stroke-width="1.0"/>
<line x1="216.5" y1="323.5" x2="216.5" y2="388.2" stroke="#6e6e6e" stroke-width="1.0"/>
<line x1="212.6" y1="323.5" x2="225.3" y2="323.5" stroke="#6e6e6e" stroke-width="1.0"/>
<line x1="212.6" y1="355.5" x2="225.3" y2="355.5" stroke="#6e6e6e" stroke-width="1.0"/>
<line x1="212.6" y1="383.5" x2="225.3" y2="383.5" stroke="#6e6e6e" stroke-width="1.0"/>
<line x1="212.6" y1="388.5" x2="225.3" y2="388.5" stroke="#6e6e6e" stroke-width="1.0"/>
<text transform="translate(214.9,341.8) rotate(-90)" x="0" y="0" font-size="5.4" textLength="6.4" lengthAdjust="spacingAndGlyphs" fill="#222" font-family="Liberation Sans" font-weight="bold">700</text>
<text transform="translate(214.9,373.4) rotate(-90)" x="0" y="0" font-size="5.4" textLength="6.4" lengthAdjust="spacingAndGlyphs" fill="#222" font-family="Liberation Sans" font-weight="bold">500</text>
<text transform="translate(214.7,391.0) rotate(-90)" x="0" y="0" font-size="4.8" textLength="5.5" lengthAdjust="spacingAndGlyphs" fill="#222" font-family="Liberation Sans" font-weight="bold">100</text>
<line x1="191.0" y1="379.5" x2="210.8" y2="379.5" stroke="#6e6e6e" stroke-width="1.0"/>
<polyline points="201.0,379.9 205.0,383.3 209.0,379.9" fill="none" stroke="#6e6e6e" stroke-width="1.0"/>
<text x="194.5" y="378.9" font-size="7" textLength="15.4" lengthAdjust="spacingAndGlyphs" fill="#333" font-family="Liberation Sans" font-weight="bold">-2.650</text>
<polyline points="233.4,355.7 259.6,355.7 259.6,323.8 350.7,323.8 350.7,295.3" fill="none" stroke="#6e6e6e" stroke-width="1.0"/>
<polyline points="262.3,371.6 262.3,326.4 365.2,326.4" fill="none" stroke="#6e6e6e" stroke-width="1.0"/>
<line x1="264.1" y1="332.0" x2="264.1" y2="344.1" stroke="#222" stroke-width="1.2"/>
<line x1="264.1" y1="344.5" x2="370.3" y2="344.5" stroke="#6e6e6e" stroke-width="1.0"/>
<text x="311.4" y="293.5" font-size="6.5" textLength="34.2" lengthAdjust="spacingAndGlyphs" fill="#151515" font-family="Liberation Serif" font-weight="bold">柱主筋锚入梁内</text>
<line x1="308.8" y1="295.5" x2="350.7" y2="295.5" stroke="#6e6e6e" stroke-width="1.0"/>
<line x1="352.5" y1="287.0" x2="352.5" y2="344.4" stroke="#6e6e6e" stroke-width="1.0"/>
<line x1="365.5" y1="272.6" x2="365.5" y2="427.6" stroke="#6e6e6e" stroke-width="1.0"/>
<line x1="367.8" y1="288.0" x2="367.8" y2="345.0" stroke="#333" stroke-width="1.3"/>
<line x1="371.5" y1="288.0" x2="371.5" y2="352.0" stroke="#6e6e6e" stroke-width="1.0"/>
<rect x="367.3" y="325.6" width="3.0" height="16.2" fill="#444"/>
<text x="320.0" y="333.0" font-size="6" textLength="10.2" lengthAdjust="spacingAndGlyphs" fill="#333" font-family="Liberation Sans" font-weight="bold">2Φ20</text>
<line x1="317.4" y1="334.5" x2="339.6" y2="334.5" stroke="#6e6e6e" stroke-width="1.0"/>
<polyline points="321.6,327.3 335.3,327.3 344.7,341.0" fill="none" stroke="#6e6e6e" stroke-width="1.0"/>
<text x="333.6" y="339.5" font-size="5.5" textLength="6.8" lengthAdjust="spacingAndGlyphs" fill="#333" font-family="Liberation Sans" font-weight="bold">45°</text>
<line x1="332.7" y1="341.5" x2="365.2" y2="341.5" stroke="#6e6e6e" stroke-width="1.0"/>
<line x1="363.5" y1="328.0" x2="363.5" y2="341.8" stroke="#6e6e6e" stroke-width="1.0"/>
<polyline points="349.7,387.9 349.7,346.3 365.6,346.3" fill="none" stroke="#6e6e6e" stroke-width="1.0"/>
<line x1="233.4" y1="383.5" x2="349.7" y2="383.5" stroke="#6e6e6e" stroke-width="1.0"/>
<line x1="233.4" y1="387.5" x2="349.7" y2="387.5" stroke="#6e6e6e" stroke-width="1.0"/>
<line x1="233.4" y1="380.6" x2="346.0" y2="380.6" stroke="#333" stroke-width="1.5"/>
<line x1="346.0" y1="364.4" x2="346.0" y2="380.6" stroke="#333" stroke-width="1.5"/>
<line x1="233.4" y1="358.0" x2="337.4" y2="358.0" stroke="#333" stroke-width="1.5"/>
<rect x="359.5" y="362.5" width="46.0" height="21.0" fill="none" stroke="#6e6e6e" stroke-width="1.0" stroke-dasharray="3,2"/>
<polyline points="373.8,288.0 373.8,351.3 369.6,351.3 369.6,362.5" fill="none" stroke="#6e6e6e" stroke-width="1.0" stroke-dasharray="3,2"/>
<polyline points="390.4,288.0 390.4,351.3 394.9,351.3 394.9,362.5" fill="none" stroke="#6e6e6e" stroke-width="1.0" stroke-dasharray="3,2"/>
<line x1="349.5" y1="391.5" x2="349.5" y2="406.0" stroke="#6e6e6e" stroke-width="1.0"/>
<line x1="349.7" y1="403.5" x2="365.6" y2="403.5" stroke="#6e6e6e" stroke-width="1.0"/>
<text x="353.3" y="401.5" font-size="6" textLength="9.9" lengthAdjust="spacingAndGlyphs" fill="#333" font-family="Liberation Sans" font-weight="bold">200</text>
<line x1="259.5" y1="405.0" x2="259.5" y2="425.0" stroke="#6e6e6e" stroke-width="1.0"/>
<line x1="259.6" y1="416.5" x2="365.6" y2="416.5" stroke="#6e6e6e" stroke-width="1.0"/>
<text x="312.6" y="414.5" font-size="6" textLength="10.9" lengthAdjust="spacingAndGlyphs" fill="#333" font-family="Liberation Sans" font-weight="bold">2300</text>
<text x="363.6" y="433.5" font-size="8" textLength="3.8" lengthAdjust="spacingAndGlyphs" fill="#222" font-family="Liberation Sans" font-weight="bold">8</text>
<line x1="420.5" y1="323.4" x2="420.5" y2="388.0" stroke="#6e6e6e" stroke-width="1.0"/>
<line x1="410.6" y1="323.5" x2="423.0" y2="323.5" stroke="#6e6e6e" stroke-width="1.0"/>
<line x1="410.6" y1="346.5" x2="423.0" y2="346.5" stroke="#6e6e6e" stroke-width="1.0"/>
<line x1="410.6" y1="383.5" x2="423.0" y2="383.5" stroke="#6e6e6e" stroke-width="1.0"/>
<line x1="410.6" y1="388.5" x2="423.0" y2="388.5" stroke="#6e6e6e" stroke-width="1.0"/>
<line x1="409.7" y1="323.5" x2="420.5" y2="323.5" stroke="#6e6e6e" stroke-width="1.0"/>
<text transform="translate(418.4,339.5) rotate(-90)" x="0" y="0" font-size="5.4" textLength="7.5" lengthAdjust="spacingAndGlyphs" fill="#222" font-family="Liberation Sans" font-weight="bold">700</text>
<text transform="translate(418.4,370.7) rotate(-90)" x="0" y="0" font-size="5.4" textLength="7.4" lengthAdjust="spacingAndGlyphs" fill="#222" font-family="Liberation Sans" font-weight="bold">500</text>
<text transform="translate(418.2,392.0) rotate(-90)" x="0" y="0" font-size="4.8" textLength="6.0" lengthAdjust="spacingAndGlyphs" fill="#222" font-family="Liberation Sans" font-weight="bold">100</text>
<line x1="424.6" y1="380.5" x2="445.2" y2="380.5" stroke="#6e6e6e" stroke-width="1.0"/>
<polyline points="423.9,380.2 427.9,383.6 431.9,380.2" fill="none" stroke="#6e6e6e" stroke-width="1.0"/>
<text x="428.7" y="379.2" font-size="7" textLength="15.6" lengthAdjust="spacingAndGlyphs" fill="#333" font-family="Liberation Sans" font-weight="bold">-2.650</text>
<text x="301.6" y="449.9" font-size="12.671755725190769" textLength="16.2" lengthAdjust="spacingAndGlyphs" fill="#111" font-family="Liberation Serif" font-weight="normal">DL6</text>
<text x="318.6" y="449.9" font-size="6.2" textLength="8.4" lengthAdjust="spacingAndGlyphs" fill="#333" font-family="Liberation Sans" font-weight="bold">1:20</text>
<line x1="298.0" y1="451.5" x2="326.5" y2="451.5" stroke="#666" stroke-width="1.0"/>
<text x="501.4" y="300.0" font-size="10" textLength="12.4" lengthAdjust="spacingAndGlyphs" fill="#111" font-family="Liberation Serif" font-weight="bold">说明</text>
<text x="456.8" y="315.5" font-size="7" textLength="2.8" lengthAdjust="spacingAndGlyphs" fill="#333" font-family="Liberation Sans" font-weight="normal">1</text>
<text x="462.9" y="315.2" font-size="7.6" textLength="87.5" lengthAdjust="spacingAndGlyphs" fill="#151515" font-family="Liberation Serif" font-weight="bold">暖沟盖板只设过梁GL2，暖沟钢筋为选用GBJ2</text>
<text x="456.8" y="327.5" font-size="7" textLength="3.2" lengthAdjust="spacingAndGlyphs" fill="#333" font-family="Liberation Sans" font-weight="normal">2</text>
<text x="462.9" y="327.2" font-size="7.6" textLength="35.9" lengthAdjust="spacingAndGlyphs" fill="#151515" font-family="Liberation Serif" font-weight="bold">沟盖板选用GBJ2.1</text>
<text x="515.4" y="327.2" font-size="7.6" textLength="69.0" lengthAdjust="spacingAndGlyphs" fill="#151515" font-family="Liberation Serif" font-weight="bold">车辆沟盖板改用重型，板厚及配筋不变</text>
<text x="462.0" y="339.2" font-size="7.6" textLength="48.8" lengthAdjust="spacingAndGlyphs" fill="#151515" font-family="Liberation Serif" font-weight="bold">在柱的相应位置预留插筋</text>
<text x="456.8" y="351.5" font-size="7" textLength="3.2" lengthAdjust="spacingAndGlyphs" fill="#333" font-family="Liberation Sans" font-weight="normal">3</text>
<text x="462.9" y="351.1" font-size="7.6" textLength="103.1" lengthAdjust="spacingAndGlyphs" fill="#151515" font-family="Liberation Serif" font-weight="bold">基槽开挖过程中，严禁破坏原有建筑的基础结构及基础</text>
<text x="462.0" y="360.3" font-size="7.6" textLength="27.6" lengthAdjust="spacingAndGlyphs" fill="#151515" font-family="Liberation Serif" font-weight="bold">具体力见土图。</text>
<polyline points="43.4,519.2 43.4,510.0 103.5,501.0 103.5,476.4 121.7,476.4 121.7,501.0 181.6,510.0 181.6,519.2" fill="none" stroke="#6e6e6e" stroke-width="1.0"/>
<rect x="38.5" y="519.5" width="147.0" height="5.0" fill="none" stroke="#6e6e6e" stroke-width="1.0"/>
<circle cx="39.8" cy="521.7" r="0.55" fill="#777"/>
<circle cx="83.2" cy="520.5" r="0.55" fill="#777"/>
<circle cx="85.3" cy="522.9" r="0.55" fill="#777"/>
<circle cx="148.5" cy="522.9" r="0.55" fill="#777"/>
<path d="M174.0 522.5l1.4 -0.9l0.3 1.2z" fill="none" stroke="#777" stroke-width="0.5"/>
<circle cx="81.4" cy="521.3" r="0.55" fill="#777"/>
<circle cx="184.5" cy="522.1" r="0.55" fill="#777"/>
<circle cx="101.5" cy="521.0" r="0.55" fill="#777"/>
<circle cx="54.1" cy="522.9" r="0.55" fill="#777"/>
<circle cx="175.3" cy="520.9" r="0.55" fill="#777"/>
<circle cx="113.6" cy="520.7" r="0.55" fill="#777"/>
<path d="M178.3 523.1l1.4 -0.9l0.3 1.2z" fill="none" stroke="#777" stroke-width="0.5"/>
<line x1="45.0" y1="517.9" x2="180.0" y2="517.9" stroke="#777" stroke-width="1.5"/>
<text x="37.1" y="490.5" font-size="6" textLength="17.1" lengthAdjust="spacingAndGlyphs" fill="#333" font-family="Liberation Sans" font-weight="bold">Φ8@150</text>
<line x1="35.1" y1="491.5" x2="58.4" y2="491.5" stroke="#6e6e6e" stroke-width="1.0"/>
<line x1="58.5" y1="491.8" x2="58.5" y2="517.9" stroke="#6e6e6e" stroke-width="1.0"/>
<text x="35.1" y="501.0" font-size="6" textLength="16.5" lengthAdjust="spacingAndGlyphs" fill="#333" font-family="Liberation Sans" font-weight="bold">Φ8@200</text>
<line x1="34.2" y1="502.5" x2="53.2" y2="502.5" stroke="#6e6e6e" stroke-width="1.0"/>
<line x1="53.5" y1="502.4" x2="53.5" y2="517.9" stroke="#6e6e6e" stroke-width="1.0"/>
<line x1="198.5" y1="476.0" x2="198.5" y2="524.0" stroke="#6e6e6e" stroke-width="1.0"/>
<line x1="201.3" y1="516.5" x2="222.0" y2="516.5" stroke="#6e6e6e" stroke-width="1.0"/>
<polyline points="200.7,516.1 204.7,519.5 208.7,516.1" fill="none" stroke="#6e6e6e" stroke-width="1.0"/>
<text x="207.0" y="515.1" font-size="7" textLength="13.9" lengthAdjust="spacingAndGlyphs" fill="#333" font-family="Liberation Sans" font-weight="bold">-2.650</text>
<line x1="188.0" y1="519.5" x2="211.0" y2="519.5" stroke="#6e6e6e" stroke-width="1.0"/>
<line x1="187.9" y1="476.5" x2="200.0" y2="476.5" stroke="#6e6e6e" stroke-width="1.0"/>
<line x1="187.9" y1="501.5" x2="200.0" y2="501.5" stroke="#6e6e6e" stroke-width="1.0"/>
<line x1="187.9" y1="510.5" x2="200.0" y2="510.5" stroke="#6e6e6e" stroke-width="1.0"/>
<line x1="187.9" y1="519.5" x2="200.0" y2="519.5" stroke="#6e6e6e" stroke-width="1.0"/>
<line x1="187.9" y1="524.5" x2="200.0" y2="524.5" stroke="#6e6e6e" stroke-width="1.0"/>
<text transform="translate(196.9,490.7) rotate(-90)" x="0" y="0" font-size="5.4" textLength="8.4" lengthAdjust="spacingAndGlyphs" fill="#222" font-family="Liberation Sans" font-weight="bold">750</text>
<text transform="translate(196.9,509.0) rotate(-90)" x="0" y="0" font-size="5.4" textLength="7.0" lengthAdjust="spacingAndGlyphs" fill="#222" font-family="Liberation Sans" font-weight="bold">250</text>
<text transform="translate(196.9,518.0) rotate(-90)" x="0" y="0" font-size="5.4" textLength="7.0" lengthAdjust="spacingAndGlyphs" fill="#222" font-family="Liberation Sans" font-weight="bold">200</text>
<text transform="translate(196.9,532.0) rotate(-90)" x="0" y="0" font-size="5.4" textLength="7.0" lengthAdjust="spacingAndGlyphs" fill="#222" font-family="Liberation Sans" font-weight="bold">100</text>
<line x1="38.6" y1="541.5" x2="185.5" y2="541.5" stroke="#6e6e6e" stroke-width="1.0"/>
<line x1="43.4" y1="552.5" x2="181.6" y2="552.5" stroke="#6e6e6e" stroke-width="1.0"/>
<line x1="38.5" y1="530.8" x2="38.5" y2="543.0" stroke="#6e6e6e" stroke-width="1.0"/>
<line x1="103.5" y1="530.8" x2="103.5" y2="543.0" stroke="#6e6e6e" stroke-width="1.0"/>
<line x1="121.5" y1="530.8" x2="121.5" y2="543.0" stroke="#6e6e6e" stroke-width="1.0"/>
<line x1="185.5" y1="530.8" x2="185.5" y2="543.0" stroke="#6e6e6e" stroke-width="1.0"/>
<line x1="43.5" y1="530.8" x2="43.5" y2="553.0" stroke="#6e6e6e" stroke-width="1.0"/>
<line x1="181.5" y1="530.8" x2="181.5" y2="553.0" stroke="#6e6e6e" stroke-width="1.0"/>
<text x="35.3" y="540.5" font-size="6.5" textLength="5.9" lengthAdjust="spacingAndGlyphs" fill="#333" font-family="Liberation Sans" font-weight="bold">100</text>
<text x="67.5" y="540.5" font-size="6.5" textLength="9.2" lengthAdjust="spacingAndGlyphs" fill="#333" font-family="Liberation Sans" font-weight="bold">1300</text>
<text x="108.3" y="540.5" font-size="6.5" textLength="7.9" lengthAdjust="spacingAndGlyphs" fill="#333" font-family="Liberation Sans" font-weight="bold">400</text>
<text x="145.4" y="540.5" font-size="6.5" textLength="9.2" lengthAdjust="spacingAndGlyphs" fill="#333" font-family="Liberation Sans" font-weight="bold">1300</text>
<text x="186.0" y="540.5" font-size="6.5" textLength="6.0" lengthAdjust="spacingAndGlyphs" fill="#333" font-family="Liberation Sans" font-weight="bold">100</text>
<text x="107.0" y="551.5" font-size="6.5" textLength="9.8" lengthAdjust="spacingAndGlyphs" fill="#333" font-family="Liberation Sans" font-weight="bold">3000</text>
<text x="108.9" y="569.8" font-size="13.58778625954195" textLength="4.3" lengthAdjust="spacingAndGlyphs" fill="#111" font-family="Liberation Serif" font-weight="bold">2</text>
<text x="114.8" y="569.8" font-size="6.2" textLength="8.1" lengthAdjust="spacingAndGlyphs" fill="#333" font-family="Liberation Sans" font-weight="bold">1:30</text>
<line x1="105.9" y1="571.5" x2="122.7" y2="571.5" stroke="#666" stroke-width="1.0"/>
<polyline points="260.1,519.2 260.1,510.3 285.8,501.0 285.8,475.8 304.1,475.8 304.1,501.0 329.7,510.3 329.7,519.2" fill="none" stroke="#6e6e6e" stroke-width="1.0"/>
<rect x="255.5" y="519.5" width="79.0" height="5.0" fill="none" stroke="#6e6e6e" stroke-width="1.0"/>
<path d="M305.2 523.0l1.4 -0.9l0.3 1.2z" fill="none" stroke="#777" stroke-width="0.5"/>
<circle cx="298.9" cy="522.4" r="0.55" fill="#777"/>
<path d="M313.1 521.5l1.4 -0.9l0.3 1.2z" fill="none" stroke="#777" stroke-width="0.5"/>
<circle cx="306.3" cy="520.9" r="0.55" fill="#777"/>
<circle cx="328.2" cy="520.4" r="0.55" fill="#777"/>
<path d="M282.9 521.0l1.4 -0.9l0.3 1.2z" fill="none" stroke="#777" stroke-width="0.5"/>
<path d="M332.1 520.9l1.4 -0.9l0.3 1.2z" fill="none" stroke="#777" stroke-width="0.5"/>
<circle cx="279.6" cy="521.8" r="0.55" fill="#777"/>
<circle cx="269.2" cy="520.5" r="0.55" fill="#777"/>
<circle cx="326.6" cy="521.6" r="0.55" fill="#777"/>
<line x1="262.0" y1="517.8" x2="328.0" y2="517.8" stroke="#777" stroke-width="1.4"/>
<text x="255.8" y="490.5" font-size="6" textLength="16.7" lengthAdjust="spacingAndGlyphs" fill="#333" font-family="Liberation Sans" font-weight="bold">Φ10@150</text>
<line x1="253.8" y1="492.5" x2="275.5" y2="492.5" stroke="#6e6e6e" stroke-width="1.0"/>
<line x1="275.5" y1="492.5" x2="275.5" y2="517.8" stroke="#6e6e6e" stroke-width="1.0"/>
<text x="252.8" y="500.0" font-size="6" textLength="16.8" lengthAdjust="spacingAndGlyphs" fill="#333" font-family="Liberation Sans" font-weight="bold">Φ8@200</text>
<line x1="250.8" y1="501.5" x2="270.6" y2="501.5" stroke="#6e6e6e" stroke-width="1.0"/>
<line x1="270.5" y1="501.4" x2="270.5" y2="517.8" stroke="#6e6e6e" stroke-width="1.0"/>
<line x1="346.5" y1="475.8" x2="346.5" y2="524.1" stroke="#6e6e6e" stroke-width="1.0"/>
<line x1="335.7" y1="475.5" x2="347.5" y2="475.5" stroke="#6e6e6e" stroke-width="1.0"/>
<line x1="335.7" y1="501.5" x2="347.5" y2="501.5" stroke="#6e6e6e" stroke-width="1.0"/>
<line x1="335.7" y1="510.5" x2="347.5" y2="510.5" stroke="#6e6e6e" stroke-width="1.0"/>
<line x1="335.7" y1="519.5" x2="347.5" y2="519.5" stroke="#6e6e6e" stroke-width="1.0"/>
<line x1="335.7" y1="524.5" x2="347.5" y2="524.5" stroke="#6e6e6e" stroke-width="1.0"/>
<text transform="translate(343.7,493.0) rotate(-90)" x="0" y="0" font-size="5.4" textLength="8.0" lengthAdjust="spacingAndGlyphs" fill="#222" font-family="Liberation Sans" font-weight="bold">750</text>
<text transform="translate(343.7,509.0) rotate(-90)" x="0" y="0" font-size="5.4" textLength="7.0" lengthAdjust="spacingAndGlyphs" fill="#222" font-family="Liberation Sans" font-weight="bold">250</text>
<text transform="translate(343.7,518.0) rotate(-90)" x="0" y="0" font-size="5.4" textLength="7.0" lengthAdjust="spacingAndGlyphs" fill="#222" font-family="Liberation Sans" font-weight="bold">200</text>
<text transform="translate(343.7,533.0) rotate(-90)" x="0" y="0" font-size="5.4" textLength="7.0" lengthAdjust="spacingAndGlyphs" fill="#222" font-family="Liberation Sans" font-weight="bold">100</text>
<line x1="350.5" y1="515.5" x2="370.0" y2="515.5" stroke="#6e6e6e" stroke-width="1.0"/>
<polyline points="349.4,515.8 353.4,519.2 357.4,515.8" fill="none" stroke="#6e6e6e" stroke-width="1.0"/>
<text x="357.4" y="514.8" font-size="7" textLength="11.8" lengthAdjust="spacingAndGlyphs" fill="#333" font-family="Liberation Sans" font-weight="bold">-2.650</text>
<line x1="335.0" y1="519.5" x2="360.0" y2="519.5" stroke="#6e6e6e" stroke-width="1.0"/>
<line x1="255.4" y1="540.5" x2="334.7" y2="540.5" stroke="#6e6e6e" stroke-width="1.0"/>
<line x1="260.1" y1="552.5" x2="329.7" y2="552.5" stroke="#6e6e6e" stroke-width="1.0"/>
<line x1="255.5" y1="530.0" x2="255.5" y2="543.0" stroke="#6e6e6e" stroke-width="1.0"/>
<line x1="285.5" y1="530.0" x2="285.5" y2="543.0" stroke="#6e6e6e" stroke-width="1.0"/>
<line x1="304.5" y1="530.0" x2="304.5" y2="543.0" stroke="#6e6e6e" stroke-width="1.0"/>
<line x1="334.5" y1="530.0" x2="334.5" y2="543.0" stroke="#6e6e6e" stroke-width="1.0"/>
<line x1="260.5" y1="530.0" x2="260.5" y2="554.0" stroke="#6e6e6e" stroke-width="1.0"/>
<line x1="329.5" y1="530.0" x2="329.5" y2="554.0" stroke="#6e6e6e" stroke-width="1.0"/>
<text x="250.0" y="540.5" font-size="6.5" textLength="6.0" lengthAdjust="spacingAndGlyphs" fill="#333" font-family="Liberation Sans" font-weight="bold">100</text>
<text x="267.6" y="540.5" font-size="6.5" textLength="8.9" lengthAdjust="spacingAndGlyphs" fill="#333" font-family="Liberation Sans" font-weight="bold">550</text>
<text x="291.3" y="540.5" font-size="6.5" textLength="7.9" lengthAdjust="spacingAndGlyphs" fill="#333" font-family="Liberation Sans" font-weight="bold">400</text>
<text x="313.0" y="540.5" font-size="6.5" textLength="7.9" lengthAdjust="spacingAndGlyphs" fill="#333" font-family="Liberation Sans" font-weight="bold">550</text>
<text x="335.0" y="540.5" font-size="6.5" textLength="6.0" lengthAdjust="spacingAndGlyphs" fill="#333" font-family="Liberation Sans" font-weight="bold">100</text>
<text x="289.3" y="551.0" font-size="6.5" textLength="9.9" lengthAdjust="spacingAndGlyphs" fill="#333" font-family="Liberation Sans" font-weight="bold">1500</text>
<text x="291.7" y="569.8" font-size="13.58778625954195" textLength="4.5" lengthAdjust="spacingAndGlyphs" fill="#111" font-family="Liberation Serif" font-weight="bold">3</text>
<text x="296.6" y="569.8" font-size="6.2" textLength="9.3" lengthAdjust="spacingAndGlyphs" fill="#333" font-family="Liberation Sans" font-weight="bold">1:30</text>
<line x1="288.1" y1="571.5" x2="304.9" y2="571.5" stroke="#666" stroke-width="1.0"/>
<line x1="418.5" y1="452.4" x2="418.5" y2="546.2" stroke="#6e6e6e" stroke-width="1.0"/>
<polyline points="416.0,500.0 420.5,502.0 416.5,504.0" fill="none" stroke="#6e6e6e" stroke-width="1.0"/>
<line x1="418.4" y1="460.5" x2="507.0" y2="460.5" stroke="#333" stroke-width="1.0"/>
<line x1="443.9" y1="457.5" x2="465.5" y2="457.5" stroke="#6e6e6e" stroke-width="1.0"/>
<polyline points="456.6,457.0 460.6,460.4 464.6,457.0" fill="none" stroke="#6e6e6e" stroke-width="1.0"/>
<text x="445.1" y="456.0" font-size="7" textLength="12.4" lengthAdjust="spacingAndGlyphs" fill="#333" font-family="Liberation Sans" font-weight="bold">-0.45</text>
<line x1="450.5" y1="460.4" x2="450.5" y2="532.1" stroke="#6e6e6e" stroke-width="1.0"/>
<text transform="translate(450.4,471.7) rotate(-90)" x="0" y="0" font-size="5.4" textLength="8.4" lengthAdjust="spacingAndGlyphs" fill="#222" font-family="Liberation Sans" font-weight="bold">300</text>
<text transform="translate(450.4,488.0) rotate(-90)" x="0" y="0" font-size="5.4" textLength="7.0" lengthAdjust="spacingAndGlyphs" fill="#222" font-family="Liberation Sans" font-weight="bold">120</text>
<text transform="translate(450.4,511.1) rotate(-90)" x="0" y="0" font-size="5.4" textLength="11.2" lengthAdjust="spacingAndGlyphs" fill="#222" font-family="Liberation Sans" font-weight="bold">1200</text>
<text transform="translate(450.4,528.2) rotate(-90)" x="0" y="0" font-size="5.4" textLength="8.4" lengthAdjust="spacingAndGlyphs" fill="#222" font-family="Liberation Sans" font-weight="bold">300</text>
<text x="463.6" y="469.0" font-size="6.5" textLength="18.5" lengthAdjust="spacingAndGlyphs" fill="#151515" font-family="Liberation Serif" font-weight="bold">素土夯实</text>
<clipPath id="c1045"><rect x="418.4" y="473.6" width="89.0" height="5.9"/></clipPath><g clip-path="url(#c1045)">
<line x1="412.5" y1="479.5" x2="418.4" y2="473.6" stroke="#666" stroke-width="0.6"/>
<line x1="419.5" y1="479.5" x2="425.4" y2="473.6" stroke="#666" stroke-width="0.6"/>
<line x1="426.5" y1="479.5" x2="432.4" y2="473.6" stroke="#666" stroke-width="0.6"/>
<line x1="433.5" y1="479.5" x2="439.4" y2="473.6" stroke="#666" stroke-width="0.6"/>
<line x1="440.5" y1="479.5" x2="446.4" y2="473.6" stroke="#666" stroke-width="0.6"/>
<line x1="447.5" y1="479.5" x2="453.4" y2="473.6" stroke="#666" stroke-width="0.6"/>
<line x1="454.5" y1="479.5" x2="460.4" y2="473.6" stroke="#666" stroke-width="0.6"/>
<line x1="461.5" y1="479.5" x2="467.4" y2="473.6" stroke="#666" stroke-width="0.6"/>
<line x1="468.5" y1="479.5" x2="474.4" y2="473.6" stroke="#666" stroke-width="0.6"/>
<line x1="475.5" y1="479.5" x2="481.4" y2="473.6" stroke="#666" stroke-width="0.6"/>
<line x1="482.5" y1="479.5" x2="488.4" y2="473.6" stroke="#666" stroke-width="0.6"/>
<line x1="489.5" y1="479.5" x2="495.4" y2="473.6" stroke="#666" stroke-width="0.6"/>
<line x1="496.5" y1="479.5" x2="502.4" y2="473.6" stroke="#666" stroke-width="0.6"/>
<line x1="503.5" y1="479.5" x2="509.4" y2="473.6" stroke="#666" stroke-width="0.6"/>
</g>
<rect x="418.5" y="473.5" width="89.0" height="6.0" fill="none" stroke="#333" stroke-width="1.0"/>
<circle cx="498.4" cy="478.7" r="0.55" fill="#555"/>
<circle cx="431.4" cy="475.2" r="0.55" fill="#555"/>
<circle cx="449.1" cy="474.8" r="0.55" fill="#555"/>
<path d="M441.8 476.8l1.4 -0.9l0.3 1.2z" fill="none" stroke="#555" stroke-width="0.5"/>
<circle cx="484.7" cy="476.2" r="0.55" fill="#555"/>
<circle cx="465.0" cy="476.0" r="0.55" fill="#555"/>
<path d="M424.6 475.6l1.4 -0.9l0.3 1.2z" fill="none" stroke="#555" stroke-width="0.5"/>
<path d="M430.2 476.6l1.4 -0.9l0.3 1.2z" fill="none" stroke="#555" stroke-width="0.5"/>
<circle cx="494.6" cy="475.3" r="0.55" fill="#555"/>
<circle cx="440.9" cy="476.1" r="0.55" fill="#555"/>
<path d="M502.6 478.0l1.4 -0.9l0.3 1.2z" fill="none" stroke="#555" stroke-width="0.5"/>
<path d="M421.1 474.5l1.4 -0.9l0.3 1.2z" fill="none" stroke="#555" stroke-width="0.5"/>
<path d="M497.5 476.4l1.4 -0.9l0.3 1.2z" fill="none" stroke="#555" stroke-width="0.5"/>
<path d="M419.2 476.1l1.4 -0.9l0.3 1.2z" fill="none" stroke="#555" stroke-width="0.5"/>
<line x1="500.2" y1="448.5" x2="530.5" y2="448.5" stroke="#6e6e6e" stroke-width="1.0"/>
<clipPath id="c1077"><rect x="507.4" y="448.1" width="15.9" height="22.8"/></clipPath><g clip-path="url(#c1077)">
<line x1="484.6" y1="470.9" x2="507.4" y2="448.1" stroke="#666" stroke-width="0.6"/>
<line x1="489.1" y1="470.9" x2="511.9" y2="448.1" stroke="#666" stroke-width="0.6"/>
<line x1="493.6" y1="470.9" x2="516.4" y2="448.1" stroke="#666" stroke-width="0.6"/>
<line x1="498.1" y1="470.9" x2="520.9" y2="448.1" stroke="#666" stroke-width="0.6"/>
<line x1="502.6" y1="470.9" x2="525.4" y2="448.1" stroke="#666" stroke-width="0.6"/>
<line x1="507.1" y1="470.9" x2="529.9" y2="448.1" stroke="#666" stroke-width="0.6"/>
<line x1="511.6" y1="470.9" x2="534.4" y2="448.1" stroke="#666" stroke-width="0.6"/>
<line x1="516.1" y1="470.9" x2="538.9" y2="448.1" stroke="#666" stroke-width="0.6"/>
<line x1="520.6" y1="470.9" x2="543.4" y2="448.1" stroke="#666" stroke-width="0.6"/>
</g>
<rect x="507.4" y="448.1" width="15.9" height="30.9" fill="none" stroke="#333" stroke-width="1.1"/>
<line x1="507.4" y1="470.5" x2="523.3" y2="470.5" stroke="#6e6e6e" stroke-width="1.0"/>
<path d="M520.0 477.3l1.4 -0.9l0.3 1.2z" fill="none" stroke="#333" stroke-width="0.5"/>
<circle cx="511.8" cy="472.4" r="0.55" fill="#333"/>
<path d="M515.7 476.1l1.4 -0.9l0.3 1.2z" fill="none" stroke="#333" stroke-width="0.5"/>
<path d="M518.5 475.9l1.4 -0.9l0.3 1.2z" fill="none" stroke="#333" stroke-width="0.5"/>
<circle cx="514.7" cy="475.3" r="0.55" fill="#333"/>
<path d="M519.4 473.2l1.4 -0.9l0.3 1.2z" fill="none" stroke="#333" stroke-width="0.5"/>
<circle cx="517.4" cy="473.7" r="0.55" fill="#333"/>
<path d="M511.8 475.8l1.4 -0.9l0.3 1.2z" fill="none" stroke="#333" stroke-width="0.5"/>
<text x="523.0" y="487.5" font-size="6" textLength="6.3" lengthAdjust="spacingAndGlyphs" fill="#333" font-family="Liberation Sans" font-weight="bold">GL1</text>
<polyline points="517.0,479.0 521.9,488.2 533.6,488.2" fill="none" stroke="#6e6e6e" stroke-width="1.0"/>
<line x1="507.4" y1="513.5" x2="537.4" y2="513.5" stroke="#6e6e6e" stroke-width="1.0"/>
<clipPath id="c1101"><rect x="507.4" y="513.3" width="15.4" height="17.1"/></clipPath><g clip-path="url(#c1101)">
<line x1="490.3" y1="530.4" x2="507.4" y2="513.3" stroke="#666" stroke-width="0.6"/>
<line x1="494.8" y1="530.4" x2="511.9" y2="513.3" stroke="#666" stroke-width="0.6"/>
<line x1="499.3" y1="530.4" x2="516.4" y2="513.3" stroke="#666" stroke-width="0.6"/>
<line x1="503.8" y1="530.4" x2="520.9" y2="513.3" stroke="#666" stroke-width="0.6"/>
<line x1="508.3" y1="530.4" x2="525.4" y2="513.3" stroke="#666" stroke-width="0.6"/>
<line x1="512.8" y1="530.4" x2="529.9" y2="513.3" stroke="#666" stroke-width="0.6"/>
<line x1="517.3" y1="530.4" x2="534.4" y2="513.3" stroke="#666" stroke-width="0.6"/>
<line x1="521.8" y1="530.4" x2="538.9" y2="513.3" stroke="#666" stroke-width="0.6"/>
</g>
<rect x="507.4" y="513.3" width="15.4" height="17.1" fill="none" stroke="#333" stroke-width="1.1"/>
<line x1="498.9" y1="530.5" x2="531.4" y2="530.5" stroke="#6e6e6e" stroke-width="1.0"/>
<line x1="523.0" y1="509.5" x2="540.0" y2="509.5" stroke="#6e6e6e" stroke-width="1.0"/>
<polyline points="522.2,509.9 526.2,513.3 530.2,509.9" fill="none" stroke="#6e6e6e" stroke-width="1.0"/>
<text x="526.2" y="508.9" font-size="7" textLength="11.2" lengthAdjust="spacingAndGlyphs" fill="#333" font-family="Liberation Sans" font-weight="bold">-1.700</text>
<polyline points="418.4,532.1 470.7,532.1 505.7,513.7 507.4,513.7" fill="none" stroke="#333" stroke-width="1.0"/>
<polyline points="418.4,536.8 472.4,536.8 507.4,518.5" fill="none" stroke="#333" stroke-width="1.0"/>
<path d="M424.9 533.1l1.4 -0.9l0.3 1.2z" fill="none" stroke="#444" stroke-width="0.5"/>
<circle cx="448.8" cy="534.1" r="0.55" fill="#444"/>
<circle cx="449.7" cy="532.9" r="0.55" fill="#444"/>
<path d="M442.6 535.9l1.4 -0.9l0.3 1.2z" fill="none" stroke="#444" stroke-width="0.5"/>
<circle cx="464.0" cy="534.4" r="0.55" fill="#444"/>
<path d="M431.7 535.9l1.4 -0.9l0.3 1.2z" fill="none" stroke="#444" stroke-width="0.5"/>
<circle cx="434.8" cy="533.0" r="0.55" fill="#444"/>
<circle cx="453.4" cy="534.2" r="0.55" fill="#444"/>
<circle cx="453.0" cy="535.8" r="0.55" fill="#444"/>
<circle cx="420.9" cy="533.9" r="0.55" fill="#444"/>
<path d="M453.8 533.5l1.4 -0.9l0.3 1.2z" fill="none" stroke="#444" stroke-width="0.5"/>
<circle cx="456.7" cy="534.5" r="0.55" fill="#444"/>
<path d="M468.4 533.9l1.4 -0.9l0.3 1.2z" fill="none" stroke="#444" stroke-width="0.5"/>
<path d="M430.9 533.6l1.4 -0.9l0.3 1.2z" fill="none" stroke="#444" stroke-width="0.5"/>
<circle cx="434.2" cy="535.9" r="0.55" fill="#444"/>
<circle cx="428.7" cy="533.6" r="0.55" fill="#444"/>
<circle cx="452.9" cy="535.8" r="0.55" fill="#444"/>
<path d="M439.1 533.6l1.4 -0.9l0.3 1.2z" fill="none" stroke="#444" stroke-width="0.5"/>
<circle cx="426.4" cy="533.1" r="0.55" fill="#444"/>
<path d="M439.1 535.7l1.4 -0.9l0.3 1.2z" fill="none" stroke="#444" stroke-width="0.5"/>
<path d="M456.3 536.0l1.4 -0.9l0.3 1.2z" fill="none" stroke="#444" stroke-width="0.5"/>
<path d="M435.9 533.5l1.4 -0.9l0.3 1.2z" fill="none" stroke="#444" stroke-width="0.5"/>
<path d="M457.0 533.0l1.4 -0.9l0.3 1.2z" fill="none" stroke="#444" stroke-width="0.5"/>
<circle cx="438.4" cy="534.1" r="0.55" fill="#444"/>
<circle cx="427.8" cy="532.9" r="0.55" fill="#444"/>
<circle cx="437.0" cy="535.9" r="0.55" fill="#444"/>
<circle cx="505.2" cy="515.8" r="0.6" fill="#444"/>
<circle cx="484.0" cy="528.8" r="0.6" fill="#444"/>
<circle cx="500.3" cy="519.1" r="0.6" fill="#444"/>
<circle cx="473.2" cy="533.4" r="0.6" fill="#444"/>
<circle cx="484.5" cy="528.8" r="0.6" fill="#444"/>
<circle cx="478.3" cy="530.4" r="0.6" fill="#444"/>
<circle cx="502.9" cy="516.5" r="0.6" fill="#444"/>
<circle cx="485.9" cy="527.8" r="0.6" fill="#444"/>
<circle cx="498.3" cy="518.9" r="0.6" fill="#444"/>
<circle cx="472.7" cy="532.4" r="0.6" fill="#444"/>
<circle cx="503.7" cy="516.7" r="0.6" fill="#444"/>
<circle cx="497.7" cy="521.8" r="0.6" fill="#444"/>
<circle cx="483.4" cy="527.5" r="0.6" fill="#444"/>
<circle cx="505.0" cy="517.1" r="0.6" fill="#444"/>
<text x="428.0" y="522.0" font-size="5.5" textLength="6.0" lengthAdjust="spacingAndGlyphs" fill="#333" font-family="Liberation Sans" font-weight="bold">C15</text>
<line x1="424.5" y1="523.5" x2="435.6" y2="523.5" stroke="#6e6e6e" stroke-width="1.0"/>
<line x1="435.5" y1="523.0" x2="435.5" y2="532.1" stroke="#6e6e6e" stroke-width="1.0"/>
<text x="481.8" y="521.5" font-size="5" textLength="3.7" lengthAdjust="spacingAndGlyphs" fill="#333" font-family="Liberation Sans" font-weight="bold">60</text>
<text x="447.6" y="566.0" font-size="9.5" textLength="33.0" lengthAdjust="spacingAndGlyphs" fill="#111" font-family="Liberation Serif" font-weight="bold">暖沟入口剖</text>
<text x="480.8" y="566.0" font-size="5.5" textLength="7.4" lengthAdjust="spacingAndGlyphs" fill="#333" font-family="Liberation Sans" font-weight="bold">1:30</text>
<line x1="445.4" y1="567.5" x2="487.8" y2="567.5" stroke="#666" stroke-width="1.0"/>
<rect x="597.5" y="414.5" width="21.1" height="17.1" fill="none" stroke="#999" stroke-width="1.8"/>
<rect x="599.4" y="416.3" width="17.3" height="13.4" fill="none" stroke="#222" stroke-width="1.4"/>
<circle cx="600.5" cy="417.4" r="1.0" fill="#111"/>
<circle cx="608.0" cy="417.4" r="1.0" fill="#111"/>
<circle cx="615.6" cy="417.4" r="1.0" fill="#111"/>
<circle cx="600.5" cy="428.6" r="1.0" fill="#111"/>
<circle cx="608.0" cy="428.6" r="1.0" fill="#111"/>
<circle cx="615.6" cy="428.6" r="1.0" fill="#111"/>
<text x="584.3" y="420.5" font-size="6" textLength="10.6" lengthAdjust="spacingAndGlyphs" fill="#333" font-family="Liberation Sans" font-weight="bold">4Φ12</text>
<line x1="579.7" y1="422.5" x2="603.4" y2="422.5" stroke="#6e6e6e" stroke-width="1.0"/>
<text x="582.4" y="428.0" font-size="6" textLength="13.8" lengthAdjust="spacingAndGlyphs" fill="#333" font-family="Liberation Sans" font-weight="bold">Φ8@200</text>
<line x1="631.5" y1="414.5" x2="631.5" y2="431.6" stroke="#6e6e6e" stroke-width="1.0"/>
<line x1="619.9" y1="414.5" x2="633.7" y2="414.5" stroke="#6e6e6e" stroke-width="1.0"/>
<line x1="619.9" y1="431.5" x2="633.7" y2="431.5" stroke="#6e6e6e" stroke-width="1.0"/>
<text transform="translate(630.9,427.7) rotate(-90)" x="0" y="0" font-size="5.4" textLength="8.4" lengthAdjust="spacingAndGlyphs" fill="#222" font-family="Liberation Sans" font-weight="bold">240</text>
<line x1="597.5" y1="434.9" x2="597.5" y2="447.4" stroke="#6e6e6e" stroke-width="1.0"/>
<line x1="618.5" y1="434.9" x2="618.5" y2="447.4" stroke="#6e6e6e" stroke-width="1.0"/>
<line x1="597.5" y1="445.5" x2="618.6" y2="445.5" stroke="#6e6e6e" stroke-width="1.0"/>
<text x="604.7" y="443.5" font-size="6.5" textLength="7.3" lengthAdjust="spacingAndGlyphs" fill="#333" font-family="Liberation Sans" font-weight="bold">200</text>
<text x="595.3" y="462.9" font-size="13.740458015267174" textLength="16.8" lengthAdjust="spacingAndGlyphs" fill="#111" font-family="Liberation Serif" font-weight="bold">DQL</text>
<text x="613.0" y="462.9" font-size="6.2" textLength="8.8" lengthAdjust="spacingAndGlyphs" fill="#333" font-family="Liberation Sans" font-weight="bold">1:20</text>
<line x1="594.4" y1="464.5" x2="623.2" y2="464.5" stroke="#666" stroke-width="1.0"/>
<rect x="679.5" y="421.5" width="8.0" height="8.0" fill="none" stroke="#777" stroke-width="1.0"/>
<polyline points="681.0,423.0 681.0,427.5 686.0,427.5" fill="none" stroke="#333" stroke-width="1.0"/>
<circle cx="681.0" cy="427.5" r="0.9" fill="#111"/>
<circle cx="686.0" cy="427.5" r="0.9" fill="#111"/>
<circle cx="682.5" cy="422.8" r="0.9" fill="#111"/>
<text x="667.0" y="414.5" font-size="6" textLength="6.6" lengthAdjust="spacingAndGlyphs" fill="#333" font-family="Liberation Sans" font-weight="bold">1Φ8</text>
<line x1="665.7" y1="416.5" x2="682.8" y2="416.5" stroke="#6e6e6e" stroke-width="1.0"/>
<line x1="682.5" y1="416.0" x2="682.5" y2="421.0" stroke="#6e6e6e" stroke-width="1.0"/>
<text x="660.4" y="423.5" font-size="6" textLength="15.1" lengthAdjust="spacingAndGlyphs" fill="#333" font-family="Liberation Sans" font-weight="bold">Φ6@200</text>
<line x1="658.4" y1="425.5" x2="679.5" y2="425.5" stroke="#6e6e6e" stroke-width="1.0"/>
<text x="668.3" y="433.5" font-size="6" textLength="9.9" lengthAdjust="spacingAndGlyphs" fill="#333" font-family="Liberation Sans" font-weight="bold">2Φ12</text>
<line x1="667.0" y1="435.5" x2="685.4" y2="435.5" stroke="#6e6e6e" stroke-width="1.0"/>
<line x1="685.5" y1="429.2" x2="685.5" y2="435.3" stroke="#6e6e6e" stroke-width="1.0"/>
<line x1="690.0" y1="421.5" x2="703.8" y2="421.5" stroke="#6e6e6e" stroke-width="1.0"/>
<line x1="690.0" y1="429.5" x2="703.8" y2="429.5" stroke="#6e6e6e" stroke-width="1.0"/>
<line x1="699.5" y1="421.0" x2="699.5" y2="429.2" stroke="#6e6e6e" stroke-width="1.0"/>
<text transform="translate(698.9,428.5) rotate(-90)" x="0" y="0" font-size="5.4" textLength="7.0" lengthAdjust="spacingAndGlyphs" fill="#222" font-family="Liberation Sans" font-weight="bold">120</text>
<line x1="679.5" y1="437.5" x2="679.5" y2="447.4" stroke="#6e6e6e" stroke-width="1.0"/>
<line x1="687.5" y1="437.5" x2="687.5" y2="447.4" stroke="#6e6e6e" stroke-width="1.0"/>
<line x1="679.5" y1="445.5" x2="687.6" y2="445.5" stroke="#6e6e6e" stroke-width="1.0"/>
<text transform="translate(686.8,444.0) rotate(-90)" x="0" y="0" font-size="5" textLength="6.0" lengthAdjust="spacingAndGlyphs" fill="#222" font-family="Liberation Sans" font-weight="bold">120</text>
<text x="668.0" y="459.3" font-size="12.366412213740492" textLength="11.1" lengthAdjust="spacingAndGlyphs" fill="#111" font-family="Liberation Serif" font-weight="normal">GL</text>
<text x="680.7" y="459.3" font-size="6.2" textLength="8.8" lengthAdjust="spacingAndGlyphs" fill="#333" font-family="Liberation Sans" font-weight="bold">1:20</text>
<line x1="666.9" y1="461.5" x2="689.0" y2="461.5" stroke="#666" stroke-width="1.0"/>
<text x="672.9" y="467.6" font-size="6" textLength="13.8" lengthAdjust="spacingAndGlyphs" fill="#333" font-family="Liberation Sans" font-weight="bold">L=1700</text>
<polyline points="608.4,490.5 636.0,490.5 636.0,525.4 615.7,525.4 615.7,497.1 608.4,497.1 608.4,490.5" fill="none" stroke="#6e6e6e" stroke-width="1.0"/>
<polyline points="610.0,497.0 610.0,492.5 634.0,492.5 634.0,497.1" fill="none" stroke="#666" stroke-width="1.0"/>
<line x1="634.0" y1="492.5" x2="634.0" y2="497.5" stroke="#222" stroke-width="1.3"/>
<line x1="610.0" y1="492.5" x2="610.0" y2="496.0" stroke="#222" stroke-width="1.3"/>
<text x="601.2" y="485.5" font-size="6" textLength="7.2" lengthAdjust="spacingAndGlyphs" fill="#333" font-family="Liberation Sans" font-weight="bold">1Φ8</text>
<polyline points="600.5,487.2 611.0,487.2 611.0,491.0" fill="none" stroke="#6e6e6e" stroke-width="1.0"/>
<text x="620.9" y="485.5" font-size="6" textLength="15.8" lengthAdjust="spacingAndGlyphs" fill="#333" font-family="Liberation Sans" font-weight="bold">Φ8@200</text>
<line x1="619.0" y1="487.5" x2="637.4" y2="487.5" stroke="#6e6e6e" stroke-width="1.0"/>
<line x1="619.5" y1="487.2" x2="619.5" y2="492.5" stroke="#6e6e6e" stroke-width="1.0"/>
<text x="606.4" y="512.5" font-size="6" textLength="4.6" lengthAdjust="spacingAndGlyphs" fill="#333" font-family="Liberation Sans" font-weight="bold">LL</text>
<polyline points="605.8,514.0 613.7,514.0 622.9,505.0" fill="none" stroke="#6e6e6e" stroke-width="1.0"/>
<line x1="570.3" y1="487.5" x2="590.7" y2="487.5" stroke="#6e6e6e" stroke-width="1.0"/>
<polyline points="583.4,487.1 587.4,490.5 591.4,487.1" fill="none" stroke="#6e6e6e" stroke-width="1.0"/>
<text x="577.5" y="486.1" font-size="7" textLength="12.5" lengthAdjust="spacingAndGlyphs" fill="#333" font-family="Liberation Sans" font-weight="bold">-0.100</text>
<line x1="592.5" y1="490.5" x2="592.5" y2="525.4" stroke="#6e6e6e" stroke-width="1.0"/>
<line x1="592.0" y1="490.5" x2="603.2" y2="490.5" stroke="#6e6e6e" stroke-width="1.0"/>
<line x1="592.0" y1="497.5" x2="603.0" y2="497.5" stroke="#6e6e6e" stroke-width="1.0"/>
<line x1="590.0" y1="525.5" x2="603.0" y2="525.5" stroke="#6e6e6e" stroke-width="1.0"/>
<text transform="translate(592.9,497.0) rotate(-90)" x="0" y="0" font-size="5.4" textLength="6.0" lengthAdjust="spacingAndGlyphs" fill="#222" font-family="Liberation Sans" font-weight="bold">100</text>
<text transform="translate(592.9,514.7) rotate(-90)" x="0" y="0" font-size="5.4" textLength="8.4" lengthAdjust="spacingAndGlyphs" fill="#222" font-family="Liberation Sans" font-weight="bold">400</text>
<line x1="608.5" y1="532.0" x2="608.5" y2="544.5" stroke="#6e6e6e" stroke-width="1.0"/>
<line x1="615.5" y1="532.0" x2="615.5" y2="544.5" stroke="#6e6e6e" stroke-width="1.0"/>
<line x1="636.5" y1="532.0" x2="636.5" y2="544.5" stroke="#6e6e6e" stroke-width="1.0"/>
<line x1="608.4" y1="541.5" x2="636.0" y2="541.5" stroke="#6e6e6e" stroke-width="1.0"/>
<text x="608.4" y="539.0" font-size="6" textLength="6.6" lengthAdjust="spacingAndGlyphs" fill="#333" font-family="Liberation Sans" font-weight="bold">100</text>
<text x="621.0" y="539.0" font-size="6.5" textLength="7.8" lengthAdjust="spacingAndGlyphs" fill="#333" font-family="Liberation Sans" font-weight="bold">380</text>
<text x="610.4" y="564.0" font-size="12.366412213740492" textLength="4.5" lengthAdjust="spacingAndGlyphs" fill="#111" font-family="Liberation Serif" font-weight="bold">6</text>
<text x="615.7" y="564.0" font-size="6.2" textLength="9.2" lengthAdjust="spacingAndGlyphs" fill="#333" font-family="Liberation Sans" font-weight="bold">1:20</text>
<line x1="607.7" y1="566.5" x2="624.0" y2="566.5" stroke="#666" stroke-width="1.0"/>
<line x1="673.5" y1="486.7" x2="673.5" y2="533.5" stroke="#6e6e6e" stroke-width="1.0"/>
<line x1="679.5" y1="486.7" x2="679.5" y2="533.5" stroke="#6e6e6e" stroke-width="1.0"/>
<line x1="686.5" y1="486.7" x2="686.5" y2="533.5" stroke="#6e6e6e" stroke-width="1.0"/>
<line x1="656.3" y1="486.5" x2="687.0" y2="486.5" stroke="#6e6e6e" stroke-width="1.0"/>
<line x1="656.3" y1="533.5" x2="687.0" y2="533.5" stroke="#6e6e6e" stroke-width="1.0"/>
<rect x="669.5" y="493.5" width="21.0" height="34.0" fill="#fff" stroke="#444" stroke-width="1.0"/>
<rect x="671.5" y="495.5" width="17.0" height="31.0" fill="none" stroke="#444" stroke-width="1.0"/>
<line x1="671.6" y1="495.2" x2="671.6" y2="526.6" stroke="#333" stroke-width="1.4"/>
<line x1="688.0" y1="495.2" x2="688.0" y2="526.6" stroke="#333" stroke-width="1.4"/>
<line x1="671.3" y1="525.8" x2="688.2" y2="525.8" stroke="#222" stroke-width="1.6"/>
<line x1="671.3" y1="495.6" x2="688.2" y2="495.6" stroke="#333" stroke-width="1.3"/>
<circle cx="672" cy="496" r="1" fill="#222"/>
<circle cx="679.7" cy="496" r="1" fill="#222"/>
<circle cx="687.5" cy="496" r="1" fill="#222"/>
<circle cx="672" cy="525.5" r="1" fill="#222"/>
<circle cx="679.7" cy="525.5" r="1" fill="#222"/>
<circle cx="687.5" cy="525.5" r="1" fill="#222"/>
<circle cx="672" cy="509" r="1" fill="#222"/>
<circle cx="687.5" cy="509" r="1" fill="#222"/>
<line x1="672.0" y1="517.5" x2="688.0" y2="517.5" stroke="#6e6e6e" stroke-width="1.0"/>
<text x="658.6" y="485.2" font-size="6" textLength="9.8" lengthAdjust="spacingAndGlyphs" fill="#333" font-family="Liberation Sans" font-weight="bold">3Φ18</text>
<text x="652.9" y="506.0" font-size="6" textLength="16.1" lengthAdjust="spacingAndGlyphs" fill="#333" font-family="Liberation Sans" font-weight="bold">Φ8@150</text>
<line x1="651.0" y1="507.5" x2="672.0" y2="507.5" stroke="#6e6e6e" stroke-width="1.0"/>
<text x="659.8" y="516.0" font-size="6" textLength="6.9" lengthAdjust="spacingAndGlyphs" fill="#333" font-family="Liberation Sans" font-weight="bold">2Φ12</text>
<line x1="652.3" y1="517.5" x2="672.0" y2="517.5" stroke="#6e6e6e" stroke-width="1.0"/>
<text x="658.0" y="531.5" font-size="6" textLength="9.3" lengthAdjust="spacingAndGlyphs" fill="#333" font-family="Liberation Sans" font-weight="bold">3Φ18</text>
<line x1="705.5" y1="493.2" x2="705.5" y2="527.4" stroke="#6e6e6e" stroke-width="1.0"/>
<line x1="696.0" y1="493.5" x2="713.3" y2="493.5" stroke="#6e6e6e" stroke-width="1.0"/>
<line x1="696.0" y1="527.5" x2="708.1" y2="527.5" stroke="#6e6e6e" stroke-width="1.0"/>
<text transform="translate(704.4,514.2) rotate(-90)" x="0" y="0" font-size="5.4" textLength="8.4" lengthAdjust="spacingAndGlyphs" fill="#222" font-family="Liberation Sans" font-weight="bold">300</text>
<line x1="705.8" y1="489.5" x2="726.5" y2="489.5" stroke="#6e6e6e" stroke-width="1.0"/>
<polyline points="704.1,489.8 708.1,493.2 712.1,489.8" fill="none" stroke="#6e6e6e" stroke-width="1.0"/>
<text x="709.8" y="488.8" font-size="7" textLength="13.2" lengthAdjust="spacingAndGlyphs" fill="#333" font-family="Liberation Sans" font-weight="bold">-0.100</text>
<line x1="669.5" y1="534.0" x2="669.5" y2="547.3" stroke="#6e6e6e" stroke-width="1.0"/>
<line x1="690.5" y1="534.0" x2="690.5" y2="547.3" stroke="#6e6e6e" stroke-width="1.0"/>
<line x1="669.3" y1="543.5" x2="690.5" y2="543.5" stroke="#6e6e6e" stroke-width="1.0"/>
<text x="674.7" y="540.5" font-size="6.5" textLength="8.7" lengthAdjust="spacingAndGlyphs" fill="#333" font-family="Liberation Sans" font-weight="bold">300</text>
<text x="671.1" y="565.2" font-size="14.351145038168077" textLength="10.7" lengthAdjust="spacingAndGlyphs" fill="#111" font-family="Liberation Serif" font-weight="bold">LL</text>
<text x="682.6" y="565.2" font-size="6.2" textLength="7.4" lengthAdjust="spacingAndGlyphs" fill="#333" font-family="Liberation Sans" font-weight="bold">1:20</text>
<line x1="669.0" y1="566.5" x2="689.2" y2="566.5" stroke="#666" stroke-width="1.0"/>
</svg></body></html>
